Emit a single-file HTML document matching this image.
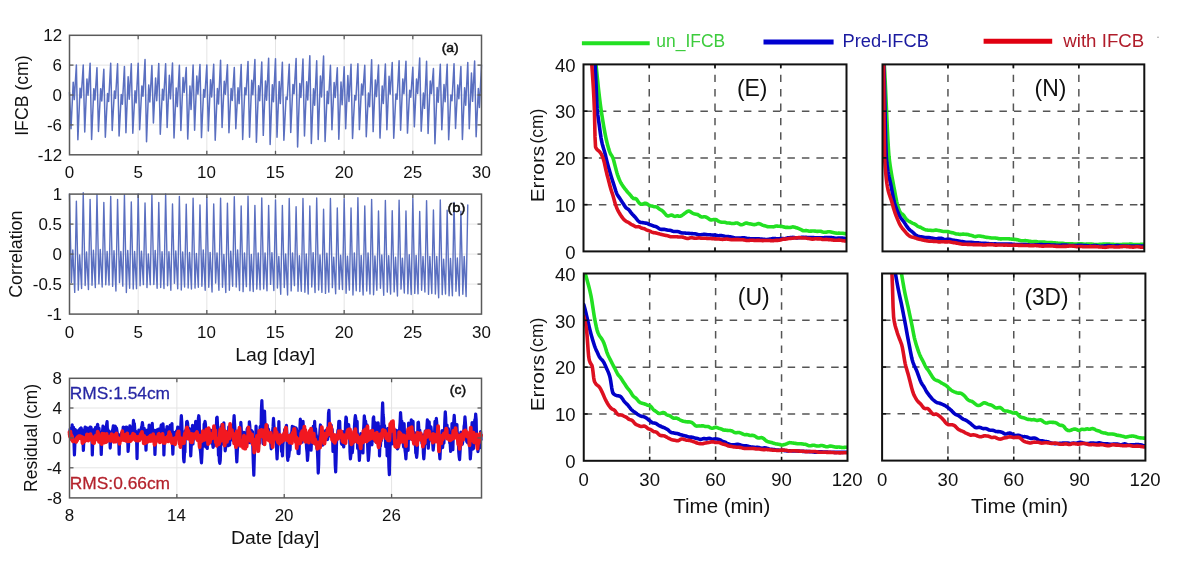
<!DOCTYPE html>
<html><head><meta charset="utf-8"><style>
html,body{margin:0;padding:0;background:#fff;}
svg{display:block;filter:blur(0.45px);}
text{font-family:"Liberation Sans",sans-serif;}
</style></head><body>
<svg width="1184" height="563" viewBox="0 0 1184 563">
<rect width="1184" height="563" fill="#fff"/>
<line x1="138.17" y1="35.30" x2="138.17" y2="154.80" stroke="#e4e4e4" stroke-width="1" />
<line x1="206.83" y1="35.30" x2="206.83" y2="154.80" stroke="#e4e4e4" stroke-width="1" />
<line x1="275.50" y1="35.30" x2="275.50" y2="154.80" stroke="#e4e4e4" stroke-width="1" />
<line x1="344.17" y1="35.30" x2="344.17" y2="154.80" stroke="#e4e4e4" stroke-width="1" />
<line x1="412.83" y1="35.30" x2="412.83" y2="154.80" stroke="#e4e4e4" stroke-width="1" />
<line x1="69.50" y1="65.12" x2="481.50" y2="65.12" stroke="#e4e4e4" stroke-width="1" />
<line x1="69.50" y1="95.00" x2="481.50" y2="95.00" stroke="#e4e4e4" stroke-width="1" />
<line x1="69.50" y1="124.88" x2="481.50" y2="124.88" stroke="#e4e4e4" stroke-width="1" />
<polyline points="69.50,92.51 71.01,128.81 73.21,82.15 74.31,99.60 76.37,64.99 77.88,139.78 80.07,88.29 81.17,97.80 83.23,65.10 84.74,132.02 86.94,79.11 88.04,95.25 90.10,63.32 91.61,139.57 93.81,88.64 94.91,100.05 96.97,67.65 98.48,131.45 100.67,88.63 101.77,100.99 103.83,69.13 105.34,137.15 107.54,93.58 108.64,101.52 110.70,63.16 112.21,130.51 114.41,91.08 115.51,98.37 117.57,63.78 119.08,135.93 121.27,94.62 122.37,104.13 124.43,66.55 125.94,132.67 128.14,76.83 129.24,99.31 131.30,63.73 132.81,133.24 135.01,90.85 136.11,102.86 138.17,63.30 139.68,129.63 141.87,85.94 142.97,96.23 145.03,59.57 146.54,141.72 148.74,85.10 149.84,102.05 151.90,65.55 153.41,122.88 155.61,78.02 156.71,100.67 158.77,63.41 160.28,134.32 162.47,89.28 163.57,100.09 165.63,63.83 167.14,127.53 169.34,75.33 170.44,98.85 172.50,63.02 174.01,137.94 176.21,88.02 177.31,106.61 179.37,65.36 180.88,130.54 183.07,77.48 184.17,92.50 186.23,67.59 187.74,139.10 189.94,85.95 191.04,109.41 193.10,65.01 194.61,130.19 196.81,76.05 197.91,94.09 199.97,64.61 201.48,137.61 203.67,89.52 204.77,97.16 206.83,64.91 208.34,130.91 210.54,79.65 211.64,96.91 213.70,64.22 215.21,140.21 217.41,88.57 218.51,104.01 220.57,60.15 222.08,127.58 224.27,81.15 225.37,94.16 227.43,64.65 228.94,132.66 231.14,88.55 232.24,100.44 234.30,67.49 235.81,128.65 238.01,87.78 239.11,103.59 241.17,64.54 242.68,139.46 244.87,87.87 245.97,94.64 248.03,61.41 249.54,137.26 251.74,80.24 252.84,94.78 254.90,59.45 256.41,142.27 258.61,85.73 259.71,100.66 261.77,62.01 263.28,135.36 265.47,80.92 266.57,100.17 268.63,58.15 270.14,144.55 272.34,84.66 273.44,101.80 275.50,58.66 277.01,137.14 279.21,81.53 280.31,103.46 282.37,62.31 283.88,140.29 286.07,97.01 287.17,99.52 289.23,64.14 290.74,132.44 292.94,84.43 294.04,93.78 296.10,58.53 297.61,146.91 299.81,83.55 300.91,97.44 302.97,59.12 304.48,136.04 306.67,81.70 307.77,99.89 309.83,55.64 311.34,143.45 313.54,88.73 314.64,105.23 316.70,60.80 318.21,139.54 320.41,76.05 321.51,97.03 323.57,56.04 325.08,141.51 327.27,91.29 328.37,103.61 330.43,65.30 331.94,129.83 334.14,82.55 335.24,97.54 337.30,67.75 338.81,139.14 341.01,81.94 342.11,104.81 344.17,66.78 345.68,128.68 347.87,75.45 348.97,101.56 351.03,64.25 352.54,138.53 354.74,95.54 355.84,99.91 357.90,63.70 359.41,129.61 361.61,84.06 362.71,94.91 364.77,65.24 366.28,136.83 368.47,92.94 369.57,106.71 371.63,59.64 373.14,131.62 375.34,79.90 376.44,96.61 378.50,64.95 380.01,138.10 382.21,86.02 383.31,103.52 385.37,64.08 386.88,129.78 389.07,76.37 390.17,94.12 392.23,62.49 393.74,138.29 395.94,94.03 397.04,99.16 399.10,60.74 400.61,130.34 402.81,78.90 403.91,93.77 405.97,61.15 407.48,133.12 409.67,90.34 410.77,97.19 412.83,67.36 414.34,126.85 416.54,79.09 417.64,93.45 419.70,58.02 421.21,131.15 423.41,93.09 424.51,108.35 426.57,61.19 428.08,133.39 430.27,81.11 431.37,93.57 433.43,68.54 434.94,143.68 437.14,87.49 438.24,102.31 440.30,64.37 441.81,129.72 444.01,84.49 445.11,101.77 447.17,64.13 448.68,139.71 450.87,95.07 451.97,100.71 454.03,63.81 455.54,128.44 457.74,85.00 458.84,98.79 460.90,66.62 462.41,139.42 464.61,87.75 465.71,105.20 467.77,62.57 469.28,128.67 471.47,72.99 472.57,101.35 474.63,60.98 476.14,136.64 478.34,88.58 479.44,107.52 481.50,65.01" fill="none" stroke="#5a6fc0" stroke-width="1.5" stroke-linejoin="round" stroke-linecap="round" stroke-linejoin="miter" stroke-linecap="butt" stroke-miterlimit="3"/>
<rect x="69.5" y="35.3" width="412.0" height="119.50000000000001" fill="none" stroke="#5a5a5a" stroke-width="1.5"/>
<line x1="138.17" y1="154.80" x2="138.17" y2="150.80" stroke="#5a5a5a" stroke-width="1.3" />
<line x1="138.17" y1="35.30" x2="138.17" y2="39.30" stroke="#5a5a5a" stroke-width="1.3" />
<line x1="206.83" y1="154.80" x2="206.83" y2="150.80" stroke="#5a5a5a" stroke-width="1.3" />
<line x1="206.83" y1="35.30" x2="206.83" y2="39.30" stroke="#5a5a5a" stroke-width="1.3" />
<line x1="275.50" y1="154.80" x2="275.50" y2="150.80" stroke="#5a5a5a" stroke-width="1.3" />
<line x1="275.50" y1="35.30" x2="275.50" y2="39.30" stroke="#5a5a5a" stroke-width="1.3" />
<line x1="344.17" y1="154.80" x2="344.17" y2="150.80" stroke="#5a5a5a" stroke-width="1.3" />
<line x1="344.17" y1="35.30" x2="344.17" y2="39.30" stroke="#5a5a5a" stroke-width="1.3" />
<line x1="412.83" y1="154.80" x2="412.83" y2="150.80" stroke="#5a5a5a" stroke-width="1.3" />
<line x1="412.83" y1="35.30" x2="412.83" y2="39.30" stroke="#5a5a5a" stroke-width="1.3" />
<line x1="69.50" y1="65.12" x2="73.50" y2="65.12" stroke="#5a5a5a" stroke-width="1.3" />
<line x1="481.50" y1="65.12" x2="477.50" y2="65.12" stroke="#5a5a5a" stroke-width="1.3" />
<line x1="69.50" y1="95.00" x2="73.50" y2="95.00" stroke="#5a5a5a" stroke-width="1.3" />
<line x1="481.50" y1="95.00" x2="477.50" y2="95.00" stroke="#5a5a5a" stroke-width="1.3" />
<line x1="69.50" y1="124.88" x2="73.50" y2="124.88" stroke="#5a5a5a" stroke-width="1.3" />
<line x1="481.50" y1="124.88" x2="477.50" y2="124.88" stroke="#5a5a5a" stroke-width="1.3" />
<text transform="translate(43.32,41.45) scale(1.0600,1)" font-size="16" font-weight="normal" fill="#111">12</text>
<text transform="translate(52.57,71.33) scale(1.0600,1)" font-size="16" font-weight="normal" fill="#111">6</text>
<text transform="translate(52.48,101.20) scale(1.0600,1)" font-size="16" font-weight="normal" fill="#111">0</text>
<text transform="translate(46.88,131.07) scale(1.0600,1)" font-size="16" font-weight="normal" fill="#111">-6</text>
<text transform="translate(37.64,160.95) scale(1.0600,1)" font-size="16" font-weight="normal" fill="#111">-12</text>
<text transform="translate(64.75,178.30) scale(1.0600,1)" font-size="16" font-weight="normal" fill="#111">0</text>
<text transform="translate(133.46,178.30) scale(1.0600,1)" font-size="16" font-weight="normal" fill="#111">5</text>
<text transform="translate(197.08,178.30) scale(1.0600,1)" font-size="16" font-weight="normal" fill="#111">10</text>
<text transform="translate(265.79,178.30) scale(1.0600,1)" font-size="16" font-weight="normal" fill="#111">15</text>
<text transform="translate(334.63,178.30) scale(1.0600,1)" font-size="16" font-weight="normal" fill="#111">20</text>
<text transform="translate(403.34,178.30) scale(1.0600,1)" font-size="16" font-weight="normal" fill="#111">25</text>
<text transform="translate(472.04,178.30) scale(1.0600,1)" font-size="16" font-weight="normal" fill="#111">30</text>
<text transform="translate(27.60,135.79) rotate(-90) scale(0.9990,1)" font-size="17.7" font-weight="normal" fill="#111">IFCB (cm)</text>
<text transform="translate(441.66,51.50) scale(1.0370,1)" font-size="13.5" font-weight="normal" fill="#111" stroke="#111" stroke-width="0.5">(a)</text>
<line x1="138.17" y1="194.10" x2="138.17" y2="314.10" stroke="#e4e4e4" stroke-width="1" />
<line x1="206.83" y1="194.10" x2="206.83" y2="314.10" stroke="#e4e4e4" stroke-width="1" />
<line x1="275.50" y1="194.10" x2="275.50" y2="314.10" stroke="#e4e4e4" stroke-width="1" />
<line x1="344.17" y1="194.10" x2="344.17" y2="314.10" stroke="#e4e4e4" stroke-width="1" />
<line x1="412.83" y1="194.10" x2="412.83" y2="314.10" stroke="#e4e4e4" stroke-width="1" />
<line x1="69.50" y1="224.10" x2="481.50" y2="224.10" stroke="#e4e4e4" stroke-width="1" />
<line x1="69.50" y1="254.10" x2="481.50" y2="254.10" stroke="#e4e4e4" stroke-width="1" />
<line x1="69.50" y1="284.10" x2="481.50" y2="284.10" stroke="#e4e4e4" stroke-width="1" />
<polyline points="69.50,194.10 71.42,282.53 72.80,249.93 74.72,292.38 76.37,201.14 78.29,290.15 79.66,254.90 81.59,288.50 83.23,192.75 85.16,285.44 86.53,251.91 88.45,289.61 90.10,199.36 92.02,285.29 93.40,250.20 95.32,287.60 96.97,194.55 98.89,283.86 100.26,249.57 102.19,287.08 103.83,202.39 105.76,284.69 107.13,251.55 109.05,285.10 110.70,196.37 112.62,286.38 114.00,250.66 115.92,291.02 117.57,199.48 119.49,282.66 120.86,251.46 122.79,286.12 124.43,194.64 126.36,292.57 127.73,250.52 129.65,288.24 131.30,201.86 133.22,289.00 134.60,251.42 136.52,288.65 138.17,193.92 140.09,285.74 141.46,251.15 143.39,284.67 145.03,203.04 146.96,287.60 148.33,253.99 150.25,284.70 151.90,194.43 153.82,284.59 155.20,250.39 157.12,288.33 158.77,202.53 160.69,287.52 162.06,251.82 163.99,288.58 165.63,194.02 167.56,285.70 168.93,251.73 170.85,290.23 172.50,203.97 174.42,283.32 175.80,251.00 177.72,288.80 179.37,196.50 181.29,289.95 182.66,251.99 184.59,286.99 186.23,204.09 188.16,287.96 189.53,252.34 191.45,288.95 193.10,198.25 195.02,288.10 196.40,253.42 198.32,287.21 199.97,204.96 201.89,286.27 203.26,249.97 205.19,290.21 206.83,197.30 208.76,287.32 210.13,252.39 212.05,291.97 213.70,203.89 215.62,283.07 217.00,252.89 218.92,290.19 220.57,198.08 222.49,287.27 223.86,254.50 225.79,292.49 227.43,203.32 229.36,290.33 230.73,251.13 232.65,286.30 234.30,196.77 236.22,286.95 237.60,249.95 239.52,290.55 241.17,205.98 243.09,291.65 244.46,252.94 246.39,286.65 248.03,196.18 249.96,290.79 251.33,254.41 253.25,291.54 254.90,205.34 256.82,289.14 258.20,252.93 260.12,289.74 261.77,197.93 263.69,288.87 265.06,253.07 266.99,290.78 268.63,205.50 270.56,284.41 271.93,252.61 273.85,290.57 275.50,199.85 277.42,288.09 278.80,256.54 280.72,294.21 282.37,205.49 284.29,287.45 285.66,253.97 287.59,295.05 289.23,198.52 291.16,290.90 292.53,252.92 294.45,285.65 296.10,206.67 298.02,291.27 299.40,255.75 301.32,291.33 302.97,198.53 304.89,292.28 306.26,253.95 308.19,294.08 309.83,206.01 311.76,287.09 313.13,252.62 315.05,292.58 316.70,197.95 318.62,290.09 320.00,254.95 321.92,292.38 323.57,209.31 325.49,293.36 326.86,253.30 328.79,292.15 330.43,198.56 332.36,287.61 333.73,257.22 335.65,293.70 337.30,207.96 339.22,289.20 340.60,255.31 342.52,289.47 344.17,198.81 346.09,293.18 347.46,256.26 349.39,290.13 351.03,208.03 352.96,294.95 354.33,252.97 356.25,290.75 357.90,197.70 359.82,291.43 361.20,255.56 363.12,295.02 364.77,205.95 366.69,291.06 368.06,252.86 369.99,293.99 371.63,199.37 373.56,294.77 374.93,255.94 376.85,290.20 378.50,210.91 380.42,288.31 381.80,254.98 383.72,295.19 385.37,200.41 387.29,292.11 388.66,255.68 390.59,294.10 392.23,210.82 394.16,291.87 395.53,257.27 397.45,296.03 399.10,200.12 401.02,289.14 402.40,258.15 404.32,293.05 405.97,211.02 407.89,293.73 409.26,254.70 411.19,294.43 412.83,198.51 414.76,293.38 416.13,255.53 418.05,293.85 419.70,211.56 421.62,290.22 423.00,256.46 424.92,291.98 426.57,200.61 428.49,294.36 429.86,256.51 431.79,293.43 433.43,209.92 435.36,294.05 436.73,256.54 438.65,297.81 440.30,200.02 442.22,294.60 443.60,259.31 445.52,293.95 447.17,210.15 449.09,295.79 450.46,258.36 452.39,295.71 454.03,202.41 455.96,291.34 457.33,258.06 459.25,295.78 460.90,211.19 462.82,294.19 464.20,256.33 466.12,296.51 467.77,204.90" fill="none" stroke="#5a6fc0" stroke-width="1.4" stroke-linejoin="round" stroke-linecap="round" stroke-linejoin="miter" stroke-linecap="butt" stroke-miterlimit="3"/>
<rect x="69.5" y="194.1" width="412.0" height="120.00000000000003" fill="none" stroke="#5a5a5a" stroke-width="1.5"/>
<line x1="138.17" y1="314.10" x2="138.17" y2="310.10" stroke="#5a5a5a" stroke-width="1.3" />
<line x1="138.17" y1="194.10" x2="138.17" y2="198.10" stroke="#5a5a5a" stroke-width="1.3" />
<line x1="206.83" y1="314.10" x2="206.83" y2="310.10" stroke="#5a5a5a" stroke-width="1.3" />
<line x1="206.83" y1="194.10" x2="206.83" y2="198.10" stroke="#5a5a5a" stroke-width="1.3" />
<line x1="275.50" y1="314.10" x2="275.50" y2="310.10" stroke="#5a5a5a" stroke-width="1.3" />
<line x1="275.50" y1="194.10" x2="275.50" y2="198.10" stroke="#5a5a5a" stroke-width="1.3" />
<line x1="344.17" y1="314.10" x2="344.17" y2="310.10" stroke="#5a5a5a" stroke-width="1.3" />
<line x1="344.17" y1="194.10" x2="344.17" y2="198.10" stroke="#5a5a5a" stroke-width="1.3" />
<line x1="412.83" y1="314.10" x2="412.83" y2="310.10" stroke="#5a5a5a" stroke-width="1.3" />
<line x1="412.83" y1="194.10" x2="412.83" y2="198.10" stroke="#5a5a5a" stroke-width="1.3" />
<line x1="69.50" y1="224.10" x2="73.50" y2="224.10" stroke="#5a5a5a" stroke-width="1.3" />
<line x1="481.50" y1="224.10" x2="477.50" y2="224.10" stroke="#5a5a5a" stroke-width="1.3" />
<line x1="69.50" y1="254.10" x2="73.50" y2="254.10" stroke="#5a5a5a" stroke-width="1.3" />
<line x1="481.50" y1="254.10" x2="477.50" y2="254.10" stroke="#5a5a5a" stroke-width="1.3" />
<line x1="69.50" y1="284.10" x2="73.50" y2="284.10" stroke="#5a5a5a" stroke-width="1.3" />
<line x1="481.50" y1="284.10" x2="477.50" y2="284.10" stroke="#5a5a5a" stroke-width="1.3" />
<text transform="translate(52.65,200.30) scale(1.0600,1)" font-size="16" font-weight="normal" fill="#111">1</text>
<text transform="translate(38.40,230.30) scale(1.0600,1)" font-size="16" font-weight="normal" fill="#111">0.5</text>
<text transform="translate(52.48,260.30) scale(1.0600,1)" font-size="16" font-weight="normal" fill="#111">0</text>
<text transform="translate(32.81,290.30) scale(1.0600,1)" font-size="16" font-weight="normal" fill="#111">-0.5</text>
<text transform="translate(46.97,320.30) scale(1.0600,1)" font-size="16" font-weight="normal" fill="#111">-1</text>
<text transform="translate(64.75,338.00) scale(1.0600,1)" font-size="16" font-weight="normal" fill="#111">0</text>
<text transform="translate(133.46,338.00) scale(1.0600,1)" font-size="16" font-weight="normal" fill="#111">5</text>
<text transform="translate(197.08,338.00) scale(1.0600,1)" font-size="16" font-weight="normal" fill="#111">10</text>
<text transform="translate(265.79,338.00) scale(1.0600,1)" font-size="16" font-weight="normal" fill="#111">15</text>
<text transform="translate(334.63,338.00) scale(1.0600,1)" font-size="16" font-weight="normal" fill="#111">20</text>
<text transform="translate(403.34,338.00) scale(1.0600,1)" font-size="16" font-weight="normal" fill="#111">25</text>
<text transform="translate(472.04,338.00) scale(1.0600,1)" font-size="16" font-weight="normal" fill="#111">30</text>
<text transform="translate(235.14,360.60) scale(1.0511,1)" font-size="18.5" font-weight="normal" fill="#111">Lag [day]</text>
<text transform="translate(22.30,297.79) rotate(-90) scale(0.9804,1)" font-size="18.2" font-weight="normal" fill="#111">Correlation</text>
<text transform="translate(447.42,212.00) scale(1.0909,1)" font-size="13.5" font-weight="normal" fill="#111" stroke="#111" stroke-width="0.5">(b)</text>
<line x1="176.86" y1="378.30" x2="176.86" y2="497.90" stroke="#e4e4e4" stroke-width="1" />
<line x1="284.23" y1="378.30" x2="284.23" y2="497.90" stroke="#e4e4e4" stroke-width="1" />
<line x1="391.59" y1="378.30" x2="391.59" y2="497.90" stroke="#e4e4e4" stroke-width="1" />
<line x1="69.50" y1="408.00" x2="481.50" y2="408.00" stroke="#e4e4e4" stroke-width="1" />
<line x1="69.50" y1="437.90" x2="481.50" y2="437.90" stroke="#e4e4e4" stroke-width="1" />
<line x1="69.50" y1="467.80" x2="481.50" y2="467.80" stroke="#e4e4e4" stroke-width="1" />
<polyline points="69.50,434.60 69.95,430.67 70.39,428.48 70.84,432.81 71.29,434.02 71.74,432.98 72.18,424.75 72.63,434.69 73.08,432.54 73.53,427.25 73.97,441.65 74.42,454.84 74.87,444.12 75.32,429.50 75.76,436.92 76.21,436.48 76.66,430.88 77.10,433.11 77.55,432.51 78.00,430.83 78.45,435.09 78.89,437.23 79.34,429.67 79.79,432.58 80.24,428.69 80.68,428.85 81.13,427.88 81.58,429.76 82.03,433.92 82.47,430.83 82.92,436.33 83.37,450.33 83.82,441.08 84.26,439.89 84.71,429.30 85.16,427.17 85.60,434.05 86.05,430.84 86.50,427.90 86.95,428.08 87.39,428.59 87.84,433.22 88.29,429.29 88.74,430.30 89.18,437.46 89.63,427.96 90.08,427.12 90.53,428.64 90.97,427.23 91.42,429.48 91.87,436.22 92.31,454.89 92.76,440.44 93.21,434.98 93.66,430.15 94.10,432.45 94.55,429.26 95.00,434.20 95.45,427.52 95.89,430.04 96.34,429.10 96.79,430.79 97.24,425.66 97.68,424.40 98.13,428.80 98.58,429.85 99.03,428.26 99.47,436.04 99.92,432.00 100.37,433.70 100.81,439.90 101.26,454.50 101.71,440.12 102.16,438.17 102.60,430.48 103.05,426.02 103.50,428.61 103.95,434.32 104.39,429.51 104.84,428.43 105.29,427.52 105.74,428.10 106.18,431.34 106.63,424.38 107.08,421.64 107.52,432.73 107.97,429.65 108.42,436.31 108.87,432.64 109.31,434.70 109.76,431.72 110.21,448.03 110.66,439.61 111.10,433.96 111.55,438.11 112.00,433.97 112.45,430.50 112.89,428.99 113.34,425.81 113.79,432.75 114.23,432.57 114.68,427.21 115.13,426.28 115.58,426.91 116.02,430.42 116.47,428.00 116.92,430.70 117.37,434.10 117.81,433.88 118.26,439.82 118.71,436.86 119.16,454.09 119.60,437.89 120.05,434.91 120.50,439.13 120.95,438.23 121.39,433.48 121.84,434.82 122.29,431.76 122.73,434.57 123.18,427.14 123.63,429.58 124.08,430.86 124.52,430.47 124.97,435.67 125.42,427.31 125.87,427.59 126.31,433.67 126.76,427.14 127.21,434.65 127.66,436.81 128.10,451.36 128.55,445.46 129.00,433.88 129.44,431.02 129.89,425.87 130.34,432.57 130.79,432.84 131.23,433.25 131.68,430.36 132.13,430.15 132.58,430.38 133.02,428.40 133.47,420.29 133.92,426.27 134.37,423.60 134.81,430.13 135.26,433.18 135.71,431.34 136.16,440.41 136.60,438.35 137.05,458.53 137.50,435.68 137.94,436.68 138.39,434.42 138.84,430.23 139.29,431.62 139.73,431.10 140.18,433.46 140.63,432.92 141.08,429.27 141.52,427.27 141.97,426.06 142.42,422.58 142.87,426.55 143.31,429.65 143.76,430.24 144.21,428.30 144.65,432.33 145.10,435.82 145.55,439.23 146.00,450.11 146.44,439.09 146.89,430.33 147.34,434.66 147.79,429.86 148.23,436.23 148.68,434.00 149.13,424.98 149.58,432.24 150.02,429.88 150.47,430.32 150.92,431.80 151.37,427.91 151.81,433.02 152.26,423.44 152.71,435.08 153.15,430.89 153.60,430.74 154.05,430.26 154.50,440.02 154.94,454.34 155.39,443.12 155.84,433.88 156.29,438.20 156.73,429.95 157.18,429.84 157.63,436.60 158.08,439.96 158.52,429.01 158.97,434.37 159.42,432.26 159.86,435.07 160.31,433.07 160.76,428.42 161.21,425.14 161.65,432.62 162.10,434.08 162.55,430.17 163.00,423.80 163.44,430.25 163.89,454.91 164.34,441.10 164.79,435.79 165.23,434.24 165.68,429.81 166.13,431.81 166.57,433.58 167.02,426.61 167.47,432.64 167.92,432.75 168.36,437.97 168.81,429.23 169.26,433.93 169.71,427.85 170.15,425.44 170.60,429.43 171.05,432.96 171.50,435.01 171.94,423.66 172.39,441.90 172.84,454.19 173.29,442.94 173.73,432.30 174.18,435.45 174.63,435.92 175.07,437.45 175.52,433.69 175.97,434.64 176.42,431.12 176.86,436.69 177.31,430.29 177.76,427.04 178.21,428.07 178.65,427.78 179.10,436.65 179.55,430.74 180.00,434.07 180.44,433.38 180.89,423.85 181.34,415.48 181.78,422.54 182.23,437.54 182.68,441.03 183.13,436.60 183.57,458.54 184.02,461.82 184.47,452.67 184.92,452.32 185.36,430.56 185.81,438.94 186.26,429.81 186.71,421.67 187.15,421.46 187.60,423.45 188.05,429.73 188.50,433.74 188.94,436.76 189.39,428.67 189.84,439.48 190.28,436.30 190.73,455.84 191.18,446.79 191.63,441.36 192.07,443.69 192.52,425.41 192.97,443.96 193.42,431.74 193.86,428.44 194.31,439.04 194.76,428.55 195.21,431.91 195.65,421.45 196.10,426.09 196.55,435.66 196.99,428.79 197.44,431.17 197.89,430.98 198.34,418.69 198.78,415.73 199.23,420.02 199.68,442.31 200.13,448.97 200.57,451.72 201.02,458.07 201.47,462.92 201.92,455.26 202.36,443.91 202.81,439.50 203.26,446.40 203.70,438.06 204.15,424.24 204.60,422.98 205.05,421.46 205.49,424.55 205.94,447.08 206.39,432.16 206.84,434.87 207.28,448.51 207.73,430.14 208.18,444.09 208.63,437.09 209.07,437.25 209.52,436.87 209.97,430.13 210.42,438.43 210.86,430.37 211.31,432.94 211.76,443.48 212.20,439.97 212.65,443.69 213.10,447.39 213.55,445.60 213.99,431.83 214.44,442.90 214.89,426.58 215.34,433.69 215.78,432.57 216.23,431.58 216.68,417.69 217.13,417.14 217.57,426.34 218.02,435.75 218.47,455.12 218.91,446.63 219.36,460.90 219.81,463.31 220.26,460.28 220.70,447.92 221.15,426.57 221.60,429.54 222.05,424.58 222.49,443.99 222.94,424.16 223.39,436.25 223.84,422.86 224.28,435.82 224.73,439.27 225.18,450.78 225.63,447.24 226.07,441.75 226.52,432.25 226.97,431.85 227.41,440.65 227.86,445.59 228.31,445.66 228.76,426.84 229.20,435.97 229.65,444.90 230.10,428.29 230.55,433.94 230.99,431.46 231.44,429.34 231.89,430.93 232.34,434.79 232.78,440.31 233.23,434.09 233.68,422.44 234.12,415.48 234.57,423.67 235.02,430.20 235.47,436.50 235.91,440.39 236.36,453.38 236.81,461.82 237.26,452.67 237.70,444.50 238.15,437.84 238.60,438.83 239.05,430.21 239.49,429.21 239.94,433.51 240.39,441.55 240.84,422.32 241.28,429.39 241.73,441.57 242.18,440.13 242.62,433.46 243.07,442.65 243.52,437.30 243.97,432.24 244.41,432.95 244.86,439.04 245.31,443.66 245.76,440.72 246.20,434.05 246.65,440.62 247.10,429.25 247.55,428.14 247.99,429.15 248.44,432.45 248.89,442.64 249.33,421.73 249.78,425.55 250.23,433.26 250.68,434.28 251.12,433.50 251.57,430.57 252.02,443.74 252.47,431.64 252.91,450.07 253.36,463.88 253.81,475.27 254.26,459.39 254.70,445.35 255.15,443.30 255.60,446.44 256.04,426.11 256.49,435.76 256.94,434.13 257.39,436.35 257.83,438.79 258.28,432.28 258.73,433.07 259.18,437.44 259.62,443.11 260.07,427.18 260.52,426.13 260.97,433.88 261.41,409.65 261.86,400.53 262.31,412.55 262.76,419.89 263.20,443.75 263.65,430.07 264.10,420.99 264.54,410.99 264.99,423.58 265.44,436.62 265.89,429.75 266.33,435.47 266.78,428.42 267.23,425.43 267.68,434.00 268.12,428.84 268.57,429.58 269.02,433.27 269.47,435.64 269.91,436.06 270.36,435.90 270.81,444.15 271.25,448.81 271.70,437.56 272.15,444.82 272.60,431.47 273.04,426.95 273.49,418.47 273.94,425.42 274.39,434.51 274.83,429.30 275.28,431.47 275.73,431.64 276.18,439.35 276.62,450.42 277.07,458.83 277.52,448.88 277.97,439.12 278.41,440.70 278.86,421.53 279.31,438.26 279.75,436.72 280.20,435.81 280.65,437.42 281.10,438.89 281.54,451.41 281.99,443.59 282.44,455.84 282.89,444.34 283.33,441.27 283.78,434.09 284.23,439.37 284.68,429.59 285.12,432.03 285.57,427.83 286.02,434.68 286.46,425.37 286.91,434.32 287.36,455.90 287.81,460.32 288.25,455.27 288.70,456.78 289.15,452.79 289.60,445.58 290.04,450.17 290.49,439.60 290.94,433.95 291.39,440.90 291.83,431.90 292.28,426.39 292.73,439.27 293.17,428.04 293.62,428.26 294.07,427.25 294.52,435.47 294.96,433.22 295.41,439.37 295.86,427.92 296.31,428.47 296.75,431.22 297.20,434.80 297.65,440.88 298.10,453.51 298.54,445.02 298.99,453.61 299.44,440.17 299.89,429.25 300.33,419.21 300.78,427.68 301.23,439.05 301.67,423.32 302.12,442.18 302.57,421.86 303.02,421.45 303.46,429.00 303.91,438.39 304.36,436.06 304.81,434.22 305.25,432.50 305.70,436.88 306.15,439.73 306.60,448.32 307.04,452.20 307.49,460.32 307.94,455.08 308.38,442.12 308.83,433.32 309.28,433.91 309.73,433.42 310.17,439.93 310.62,430.66 311.07,450.20 311.52,440.56 311.96,443.88 312.41,441.04 312.86,429.96 313.31,426.43 313.75,437.51 314.20,431.63 314.65,421.46 315.10,433.25 315.54,428.70 315.99,434.21 316.44,436.08 316.88,447.83 317.33,449.40 317.78,459.09 318.23,473.03 318.67,464.43 319.12,437.32 319.57,437.41 320.02,429.89 320.46,424.97 320.91,431.27 321.36,431.37 321.81,439.42 322.25,435.18 322.70,445.11 323.15,436.09 323.59,439.23 324.04,433.56 324.49,441.83 324.94,432.85 325.38,431.47 325.83,430.43 326.28,433.23 326.73,435.35 327.17,436.62 327.62,439.52 328.07,428.35 328.52,413.34 328.96,410.39 329.41,427.78 329.86,432.84 330.31,430.04 330.75,436.36 331.20,424.98 331.65,433.99 332.09,429.12 332.54,433.66 332.99,451.44 333.44,436.52 333.88,451.37 334.33,444.39 334.78,446.53 335.23,465.03 335.67,471.83 336.12,458.33 336.57,441.34 337.02,436.03 337.46,436.97 337.91,430.23 338.36,430.41 338.80,421.46 339.25,429.07 339.70,421.46 340.15,436.09 340.59,434.99 341.04,437.89 341.49,443.66 341.94,444.30 342.38,439.76 342.83,431.62 343.28,444.69 343.73,447.00 344.17,439.59 344.62,443.89 345.07,442.13 345.51,423.80 345.96,417.01 346.41,418.10 346.86,429.34 347.30,428.48 347.75,432.28 348.20,430.89 348.65,424.51 349.09,430.22 349.54,429.75 349.99,451.86 350.44,458.83 350.88,454.84 351.33,448.03 351.78,444.37 352.23,452.71 352.67,448.89 353.12,438.91 353.57,442.48 354.01,441.56 354.46,426.47 354.91,419.31 355.36,415.68 355.80,418.51 356.25,429.76 356.70,430.87 357.15,421.45 357.59,448.33 358.04,435.76 358.49,445.47 358.94,451.75 359.38,460.32 359.83,453.48 360.28,448.05 360.72,433.49 361.17,438.55 361.62,441.98 362.07,448.17 362.51,435.14 362.96,452.93 363.41,432.58 363.86,425.28 364.30,415.88 364.75,419.71 365.20,434.04 365.65,421.18 366.09,436.31 366.54,431.87 366.99,424.85 367.44,439.78 367.88,451.68 368.33,460.32 368.78,455.60 369.22,449.45 369.67,434.28 370.12,438.83 370.57,439.55 371.01,440.73 371.46,444.33 371.91,444.70 372.36,430.04 372.80,429.51 373.25,418.10 373.70,417.02 374.15,431.28 374.59,432.44 375.04,441.03 375.49,422.97 375.93,424.62 376.38,436.34 376.83,427.04 377.28,439.63 377.72,427.66 378.17,422.96 378.62,434.11 379.07,426.43 379.51,455.84 379.96,444.21 380.41,446.06 380.86,439.49 381.30,440.80 381.75,428.68 382.20,413.22 382.64,402.77 383.09,414.28 383.54,417.83 383.99,431.50 384.43,425.46 384.88,428.83 385.33,437.10 385.78,446.66 386.22,438.56 386.67,434.24 387.12,455.84 387.57,452.03 388.01,428.29 388.46,449.84 388.91,466.67 389.36,474.56 389.80,454.07 390.25,439.92 390.70,431.57 391.14,439.95 391.59,435.97 392.04,443.82 392.49,431.34 392.93,431.46 393.38,430.29 393.83,428.80 394.28,443.80 394.72,433.39 395.17,438.75 395.62,436.73 396.07,433.58 396.51,430.35 396.96,443.61 397.41,448.97 397.85,448.31 398.30,445.57 398.75,444.38 399.20,438.21 399.64,428.46 400.09,422.55 400.54,412.48 400.99,419.26 401.43,427.84 401.88,421.19 402.33,432.58 402.78,427.40 403.22,442.88 403.67,447.09 404.12,423.71 404.57,435.60 405.01,450.32 405.46,453.38 405.91,458.83 406.35,451.48 406.80,445.04 407.25,432.50 407.70,434.61 408.14,450.32 408.59,423.12 409.04,431.09 409.49,437.72 409.93,439.09 410.38,435.43 410.83,428.01 411.28,419.96 411.72,424.73 412.17,433.97 412.62,435.58 413.06,421.45 413.51,440.19 413.96,432.01 414.41,432.53 414.85,443.64 415.30,440.98 415.75,452.92 416.20,453.65 416.64,457.33 417.09,453.03 417.54,443.98 417.99,422.52 418.43,422.25 418.88,429.45 419.33,436.25 419.78,430.15 420.22,439.52 420.67,436.60 421.12,436.89 421.56,437.44 422.01,443.26 422.46,435.06 422.91,436.52 423.35,453.00 423.80,458.83 424.25,453.12 424.70,441.64 425.14,431.14 425.59,443.00 426.04,443.65 426.49,436.50 426.93,426.76 427.38,419.96 427.83,424.71 428.27,448.27 428.72,441.80 429.17,421.81 429.62,431.11 430.06,430.34 430.51,435.23 430.96,426.91 431.41,431.75 431.85,440.60 432.30,440.67 432.75,443.52 433.20,450.09 433.64,445.68 434.09,432.29 434.54,435.25 434.98,421.37 435.43,427.24 435.88,425.50 436.33,418.47 436.77,422.89 437.22,436.08 437.67,441.57 438.12,427.26 438.56,431.08 439.01,445.67 439.46,452.99 439.91,458.83 440.35,450.49 440.80,438.03 441.25,444.19 441.70,446.51 442.14,430.48 442.59,447.56 443.04,442.51 443.48,442.74 443.93,442.96 444.38,433.09 444.83,420.55 445.27,411.74 445.72,417.94 446.17,433.80 446.62,434.44 447.06,425.07 447.51,434.45 447.96,435.62 448.41,428.62 448.85,434.27 449.30,438.09 449.75,442.86 450.19,444.00 450.64,451.51 451.09,441.50 451.54,446.66 451.98,423.52 452.43,434.54 452.88,449.76 453.33,432.85 453.77,421.42 454.22,415.47 454.67,422.26 455.12,436.73 455.56,429.23 456.01,430.60 456.46,427.75 456.91,424.54 457.35,435.57 457.80,433.58 458.25,434.39 458.69,451.24 459.14,456.44 459.59,459.58 460.04,452.04 460.48,445.39 460.93,432.10 461.38,436.53 461.83,439.22 462.27,444.21 462.72,441.93 463.17,434.04 463.62,436.56 464.06,426.35 464.51,424.24 464.96,416.97 465.40,422.28 465.85,429.45 466.30,435.00 466.75,441.76 467.19,438.49 467.64,442.79 468.09,437.09 468.54,440.57 468.98,441.25 469.43,443.70 469.88,449.20 470.33,458.83 470.77,452.86 471.22,436.91 471.67,431.65 472.11,422.50 472.56,449.22 473.01,437.28 473.46,448.44 473.90,423.61 474.35,425.72 474.80,419.89 475.25,420.39 475.69,413.98 476.14,419.04 476.59,440.39 477.04,439.83 477.48,438.67 477.93,451.55 478.38,447.53 478.83,437.23 479.27,440.09 479.72,447.81 480.17,443.81 480.61,431.51 481.06,439.77" fill="none" stroke="#1010d0" stroke-width="3.2" stroke-linejoin="round" stroke-linecap="round" />
<polyline points="69.50,432.11 69.95,436.54 70.39,431.70 70.84,439.03 71.29,434.80 71.74,438.14 72.18,436.50 72.63,441.04 73.08,441.36 73.53,440.45 73.97,440.82 74.42,440.31 74.87,440.23 75.32,440.35 75.76,441.22 76.21,441.86 76.66,438.13 77.10,440.50 77.55,437.02 78.00,436.92 78.45,437.43 78.89,436.09 79.34,437.33 79.79,437.90 80.24,436.25 80.68,438.35 81.13,436.66 81.58,437.44 82.03,437.38 82.47,443.19 82.92,437.36 83.37,437.76 83.82,439.21 84.26,441.58 84.71,439.05 85.16,439.54 85.60,440.46 86.05,437.89 86.50,437.73 86.95,434.45 87.39,435.81 87.84,435.03 88.29,440.60 88.74,438.66 89.18,434.61 89.63,437.30 90.08,438.11 90.53,434.19 90.97,438.21 91.42,439.56 91.87,440.24 92.31,436.77 92.76,442.52 93.21,438.07 93.66,441.98 94.10,443.04 94.55,437.53 95.00,438.76 95.45,439.70 95.89,435.42 96.34,436.52 96.79,435.94 97.24,437.49 97.68,431.60 98.13,433.04 98.58,436.98 99.03,441.86 99.47,440.25 99.92,437.43 100.37,441.65 100.81,437.05 101.26,440.95 101.71,444.08 102.16,433.77 102.60,437.96 103.05,440.19 103.50,437.09 103.95,433.95 104.39,442.60 104.84,436.02 105.29,440.87 105.74,437.28 106.18,442.11 106.63,433.79 107.08,441.27 107.52,438.50 107.97,436.95 108.42,438.65 108.87,440.28 109.31,439.53 109.76,436.59 110.21,436.52 110.66,440.86 111.10,440.22 111.55,434.09 112.00,437.97 112.45,439.26 112.89,437.87 113.34,437.39 113.79,441.90 114.23,435.06 114.68,440.35 115.13,438.05 115.58,441.66 116.02,438.43 116.47,433.35 116.92,439.66 117.37,437.31 117.81,439.08 118.26,439.73 118.71,438.29 119.16,439.03 119.60,443.73 120.05,439.50 120.50,439.46 120.95,439.98 121.39,438.52 121.84,439.95 122.29,431.25 122.73,439.16 123.18,437.90 123.63,438.83 124.08,439.97 124.52,436.99 124.97,434.86 125.42,439.45 125.87,440.68 126.31,437.84 126.76,436.64 127.21,433.32 127.66,440.06 128.10,441.29 128.55,440.10 129.00,439.23 129.44,437.58 129.89,438.66 130.34,441.04 130.79,436.33 131.23,438.28 131.68,439.91 132.13,439.09 132.58,439.11 133.02,433.61 133.47,437.07 133.92,436.58 134.37,434.66 134.81,437.34 135.26,436.57 135.71,440.24 136.16,437.73 136.60,437.29 137.05,440.55 137.50,437.20 137.94,436.91 138.39,440.60 138.84,440.34 139.29,440.34 139.73,439.49 140.18,437.52 140.63,434.34 141.08,433.74 141.52,438.50 141.97,431.83 142.42,438.92 142.87,435.01 143.31,435.65 143.76,443.37 144.21,436.02 144.65,438.03 145.10,443.32 145.55,440.23 146.00,437.50 146.44,438.72 146.89,440.62 147.34,441.94 147.79,438.14 148.23,437.78 148.68,437.25 149.13,439.23 149.58,436.94 150.02,441.16 150.47,435.55 150.92,436.95 151.37,440.85 151.81,439.21 152.26,435.66 152.71,438.59 153.15,434.05 153.60,441.35 154.05,437.40 154.50,444.74 154.94,440.95 155.39,443.54 155.84,437.19 156.29,440.72 156.73,440.99 157.18,439.67 157.63,439.89 158.08,439.15 158.52,434.20 158.97,433.85 159.42,436.74 159.86,442.34 160.31,437.09 160.76,437.35 161.21,437.26 161.65,437.25 162.10,436.43 162.55,433.92 163.00,438.71 163.44,442.77 163.89,441.42 164.34,438.30 164.79,442.98 165.23,440.17 165.68,438.04 166.13,439.06 166.57,440.84 167.02,439.44 167.47,436.70 167.92,438.63 168.36,441.42 168.81,434.81 169.26,432.15 169.71,438.09 170.15,434.07 170.60,436.28 171.05,438.25 171.50,438.72 171.94,443.10 172.39,440.25 172.84,441.29 173.29,442.42 173.73,442.52 174.18,438.48 174.63,443.77 175.07,444.15 175.52,439.09 175.97,437.61 176.42,437.45 176.86,437.69 177.31,433.06 177.76,437.42 178.21,431.58 178.65,431.44 179.10,438.17 179.55,443.64 180.00,441.57 180.44,447.09 180.89,441.48 181.34,438.28 181.78,442.95 182.23,440.64 182.68,439.42 183.13,441.02 183.57,443.05 184.02,443.04 184.47,436.36 184.92,433.42 185.36,435.98 185.81,434.89 186.26,430.52 186.71,428.00 187.15,427.42 187.60,438.54 188.05,432.25 188.50,430.83 188.94,438.64 189.39,433.66 189.84,433.58 190.28,436.49 190.73,440.79 191.18,442.16 191.63,433.96 192.07,442.31 192.52,439.20 192.97,435.92 193.42,438.67 193.86,437.13 194.31,434.04 194.76,436.69 195.21,434.56 195.65,437.07 196.10,435.14 196.55,433.05 196.99,432.06 197.44,440.22 197.89,437.32 198.34,435.18 198.78,437.46 199.23,441.58 199.68,447.06 200.13,436.79 200.57,437.85 201.02,435.40 201.47,441.26 201.92,439.42 202.36,440.45 202.81,431.18 203.26,435.04 203.70,434.32 204.15,434.50 204.60,439.81 205.05,436.03 205.49,433.31 205.94,437.30 206.39,429.35 206.84,434.98 207.28,431.39 207.73,437.34 208.18,444.04 208.63,428.18 209.07,433.58 209.52,441.73 209.97,442.14 210.42,435.75 210.86,434.37 211.31,437.86 211.76,433.93 212.20,438.35 212.65,434.84 213.10,437.89 213.55,432.35 213.99,426.06 214.44,436.95 214.89,436.32 215.34,430.40 215.78,442.46 216.23,438.20 216.68,445.76 217.13,439.57 217.57,444.60 218.02,440.34 218.47,443.55 218.91,444.09 219.36,442.26 219.81,434.34 220.26,429.39 220.70,434.46 221.15,433.33 221.60,440.48 222.05,438.18 222.49,424.60 222.94,428.33 223.39,429.89 223.84,430.05 224.28,441.00 224.73,445.47 225.18,437.61 225.63,439.17 226.07,431.75 226.52,439.28 226.97,441.89 227.41,435.13 227.86,438.87 228.31,436.46 228.76,438.65 229.20,438.08 229.65,438.31 230.10,423.98 230.55,434.87 230.99,433.13 231.44,430.85 231.89,430.09 232.34,434.63 232.78,435.81 233.23,435.95 233.68,436.38 234.12,443.40 234.57,442.84 235.02,433.96 235.47,442.37 235.91,447.12 236.36,443.97 236.81,431.33 237.26,444.53 237.70,440.70 238.15,444.55 238.60,436.34 239.05,432.76 239.49,427.78 239.94,440.38 240.39,445.86 240.84,444.82 241.28,441.91 241.73,443.57 242.18,444.84 242.62,441.37 243.07,447.95 243.52,445.55 243.97,435.64 244.41,445.80 244.86,448.66 245.31,448.68 245.76,445.69 246.20,444.52 246.65,446.36 247.10,438.64 247.55,436.33 247.99,439.17 248.44,427.31 248.89,432.53 249.33,435.21 249.78,432.24 250.23,436.05 250.68,441.08 251.12,440.15 251.57,439.10 252.02,434.50 252.47,440.45 252.91,444.54 253.36,443.34 253.81,442.49 254.26,452.49 254.70,443.78 255.15,439.47 255.60,443.44 256.04,444.06 256.49,442.10 256.94,435.93 257.39,438.02 257.83,438.54 258.28,451.06 258.73,445.55 259.18,430.88 259.62,434.17 260.07,430.57 260.52,430.73 260.97,433.12 261.41,429.99 261.86,433.91 262.31,436.50 262.76,434.09 263.20,435.44 263.65,430.30 264.10,434.24 264.54,444.30 264.99,433.43 265.44,433.73 265.89,431.48 266.33,424.83 266.78,433.70 267.23,430.46 267.68,431.79 268.12,440.02 268.57,434.24 269.02,440.39 269.47,435.26 269.91,440.53 270.36,441.83 270.81,432.97 271.25,440.53 271.70,440.35 272.15,438.03 272.60,447.08 273.04,441.98 273.49,440.73 273.94,435.56 274.39,435.53 274.83,438.20 275.28,428.75 275.73,437.33 276.18,438.56 276.62,432.23 277.07,437.08 277.52,439.15 277.97,442.27 278.41,441.47 278.86,442.13 279.31,443.63 279.75,439.75 280.20,434.86 280.65,437.13 281.10,439.90 281.54,441.91 281.99,441.33 282.44,435.92 282.89,439.52 283.33,437.41 283.78,440.09 284.23,433.24 284.68,434.99 285.12,436.29 285.57,428.68 286.02,427.65 286.46,435.57 286.91,440.10 287.36,440.29 287.81,437.56 288.25,436.77 288.70,435.92 289.15,440.63 289.60,442.61 290.04,441.88 290.49,435.49 290.94,440.77 291.39,439.72 291.83,443.06 292.28,436.48 292.73,432.77 293.17,432.35 293.62,433.01 294.07,429.07 294.52,428.89 294.96,434.78 295.41,437.27 295.86,442.35 296.31,437.45 296.75,448.26 297.20,438.69 297.65,441.64 298.10,440.02 298.54,439.46 298.99,439.94 299.44,438.97 299.89,443.46 300.33,443.19 300.78,439.94 301.23,433.25 301.67,439.21 302.12,431.26 302.57,431.88 303.02,437.80 303.46,439.65 303.91,431.02 304.36,426.64 304.81,438.20 305.25,429.82 305.70,441.84 306.15,432.80 306.60,441.29 307.04,438.09 307.49,439.96 307.94,437.08 308.38,433.27 308.83,442.58 309.28,432.42 309.73,430.91 310.17,437.37 310.62,437.02 311.07,428.68 311.52,433.43 311.96,437.37 312.41,434.26 312.86,442.31 313.31,439.23 313.75,433.55 314.20,443.19 314.65,442.01 315.10,439.26 315.54,442.70 315.99,444.47 316.44,444.90 316.88,442.43 317.33,448.75 317.78,447.17 318.23,444.91 318.67,442.45 319.12,447.79 319.57,444.05 320.02,447.58 320.46,444.29 320.91,437.91 321.36,435.28 321.81,427.05 322.25,432.21 322.70,434.88 323.15,434.81 323.59,434.69 324.04,433.42 324.49,443.69 324.94,438.59 325.38,439.51 325.83,435.89 326.28,436.39 326.73,436.39 327.17,432.41 327.62,428.43 328.07,430.09 328.52,433.72 328.96,433.24 329.41,434.35 329.86,423.59 330.31,428.48 330.75,431.34 331.20,426.90 331.65,432.56 332.09,439.93 332.54,438.40 332.99,436.39 333.44,441.27 333.88,434.84 334.33,436.99 334.78,442.83 335.23,441.55 335.67,440.46 336.12,435.27 336.57,439.19 337.02,436.51 337.46,438.91 337.91,438.57 338.36,438.39 338.80,431.07 339.25,436.45 339.70,435.51 340.15,436.27 340.59,432.96 341.04,431.25 341.49,437.32 341.94,433.78 342.38,441.22 342.83,436.44 343.28,442.22 343.73,439.88 344.17,440.85 344.62,439.89 345.07,435.20 345.51,443.06 345.96,436.12 346.41,436.97 346.86,436.39 347.30,431.55 347.75,430.30 348.20,437.63 348.65,431.23 349.09,429.42 349.54,438.19 349.99,429.47 350.44,439.17 350.88,439.87 351.33,444.32 351.78,443.84 352.23,436.01 352.67,439.76 353.12,436.23 353.57,438.63 354.01,431.62 354.46,441.54 354.91,434.02 355.36,429.23 355.80,437.66 356.25,440.25 356.70,435.00 357.15,435.60 357.59,439.15 358.04,442.21 358.49,439.90 358.94,440.20 359.38,437.63 359.83,443.27 360.28,444.92 360.72,448.29 361.17,439.46 361.62,440.79 362.07,436.00 362.51,438.95 362.96,442.47 363.41,430.80 363.86,431.20 364.30,435.34 364.75,432.05 365.20,429.40 365.65,436.83 366.09,431.20 366.54,441.68 366.99,432.84 367.44,426.34 367.88,438.00 368.33,440.04 368.78,435.60 369.22,439.45 369.67,435.05 370.12,436.51 370.57,432.97 371.01,431.14 371.46,438.47 371.91,438.09 372.36,430.61 372.80,435.29 373.25,437.47 373.70,434.10 374.15,433.80 374.59,436.88 375.04,440.12 375.49,440.77 375.93,434.55 376.38,442.31 376.83,432.76 377.28,441.52 377.72,440.17 378.17,444.33 378.62,447.32 379.07,445.47 379.51,442.92 379.96,434.65 380.41,440.93 380.86,433.81 381.30,434.58 381.75,438.30 382.20,435.90 382.64,430.48 383.09,429.91 383.54,434.21 383.99,434.62 384.43,431.21 384.88,430.77 385.33,434.28 385.78,433.09 386.22,438.29 386.67,434.86 387.12,437.84 387.57,434.30 388.01,440.25 388.46,438.98 388.91,435.11 389.36,440.48 389.80,432.68 390.25,423.95 390.70,430.94 391.14,428.46 391.59,421.99 392.04,424.38 392.49,424.22 392.93,421.16 393.38,431.21 393.83,428.81 394.28,432.00 394.72,439.19 395.17,446.44 395.62,443.20 396.07,447.07 396.51,441.18 396.96,445.13 397.41,446.61 397.85,441.92 398.30,446.49 398.75,443.58 399.20,432.19 399.64,439.21 400.09,442.29 400.54,433.42 400.99,435.28 401.43,434.83 401.88,437.69 402.33,438.39 402.78,439.69 403.22,441.70 403.67,435.48 404.12,441.67 404.57,437.62 405.01,440.00 405.46,441.70 405.91,446.10 406.35,437.30 406.80,437.27 407.25,436.33 407.70,433.24 408.14,429.20 408.59,430.02 409.04,438.08 409.49,435.22 409.93,428.27 410.38,432.43 410.83,432.95 411.28,435.75 411.72,427.11 412.17,439.33 412.62,432.27 413.06,436.85 413.51,440.92 413.96,443.74 414.41,435.77 414.85,439.05 415.30,435.71 415.75,436.82 416.20,443.54 416.64,440.70 417.09,444.97 417.54,432.66 417.99,434.81 418.43,438.50 418.88,435.06 419.33,439.65 419.78,437.26 420.22,435.00 420.67,433.22 421.12,438.90 421.56,439.22 422.01,440.83 422.46,437.53 422.91,446.66 423.35,441.99 423.80,441.92 424.25,436.77 424.70,443.22 425.14,434.07 425.59,433.47 426.04,431.09 426.49,437.08 426.93,435.87 427.38,431.53 427.83,433.77 428.27,431.21 428.72,430.88 429.17,431.35 429.62,433.94 430.06,436.42 430.51,439.05 430.96,436.90 431.41,438.93 431.85,439.60 432.30,436.59 432.75,442.61 433.20,433.98 433.64,441.05 434.09,435.43 434.54,440.32 434.98,436.60 435.43,437.94 435.88,441.62 436.33,434.67 436.77,440.26 437.22,437.13 437.67,432.85 438.12,426.21 438.56,439.79 439.01,451.39 439.46,440.11 439.91,438.05 440.35,440.28 440.80,436.16 441.25,443.46 441.70,435.54 442.14,438.27 442.59,439.60 443.04,438.84 443.48,435.92 443.93,433.31 444.38,436.27 444.83,435.62 445.27,434.02 445.72,433.80 446.17,428.64 446.62,429.53 447.06,438.65 447.51,435.08 447.96,438.48 448.41,436.00 448.85,437.78 449.30,439.97 449.75,435.81 450.19,440.28 450.64,438.25 451.09,439.85 451.54,436.59 451.98,439.24 452.43,436.04 452.88,436.25 453.33,430.83 453.77,438.31 454.22,434.39 454.67,435.08 455.12,435.90 455.56,428.17 456.01,435.26 456.46,433.44 456.91,434.31 457.35,438.54 457.80,439.47 458.25,444.45 458.69,444.71 459.14,442.30 459.59,448.80 460.04,438.92 460.48,435.20 460.93,444.93 461.38,437.56 461.83,434.39 462.27,438.77 462.72,438.16 463.17,439.75 463.62,431.42 464.06,431.74 464.51,436.03 464.96,433.23 465.40,430.39 465.85,434.55 466.30,432.83 466.75,432.15 467.19,436.56 467.64,435.82 468.09,434.63 468.54,435.01 468.98,433.44 469.43,445.45 469.88,436.65 470.33,437.02 470.77,427.60 471.22,440.53 471.67,435.53 472.11,437.56 472.56,433.27 473.01,435.28 473.46,432.67 473.90,442.24 474.35,438.32 474.80,435.81 475.25,434.62 475.69,442.22 476.14,443.03 476.59,434.39 477.04,444.80 477.48,448.54 477.93,444.39 478.38,441.72 478.83,442.92 479.27,437.84 479.72,438.05 480.17,433.73 480.61,436.52 481.06,435.21" fill="none" stroke="#f21820" stroke-width="3.8" stroke-linejoin="round" stroke-linecap="round" />
<rect x="69.5" y="378.3" width="412.0" height="119.59999999999997" fill="none" stroke="#5a5a5a" stroke-width="1.5"/>
<line x1="176.86" y1="497.90" x2="176.86" y2="493.90" stroke="#5a5a5a" stroke-width="1.3" />
<line x1="176.86" y1="378.30" x2="176.86" y2="382.30" stroke="#5a5a5a" stroke-width="1.3" />
<line x1="284.23" y1="497.90" x2="284.23" y2="493.90" stroke="#5a5a5a" stroke-width="1.3" />
<line x1="284.23" y1="378.30" x2="284.23" y2="382.30" stroke="#5a5a5a" stroke-width="1.3" />
<line x1="391.59" y1="497.90" x2="391.59" y2="493.90" stroke="#5a5a5a" stroke-width="1.3" />
<line x1="391.59" y1="378.30" x2="391.59" y2="382.30" stroke="#5a5a5a" stroke-width="1.3" />
<line x1="69.50" y1="408.00" x2="73.50" y2="408.00" stroke="#5a5a5a" stroke-width="1.3" />
<line x1="481.50" y1="408.00" x2="477.50" y2="408.00" stroke="#5a5a5a" stroke-width="1.3" />
<line x1="69.50" y1="437.90" x2="73.50" y2="437.90" stroke="#5a5a5a" stroke-width="1.3" />
<line x1="481.50" y1="437.90" x2="477.50" y2="437.90" stroke="#5a5a5a" stroke-width="1.3" />
<line x1="69.50" y1="467.80" x2="73.50" y2="467.80" stroke="#5a5a5a" stroke-width="1.3" />
<line x1="481.50" y1="467.80" x2="477.50" y2="467.80" stroke="#5a5a5a" stroke-width="1.3" />
<text transform="translate(52.57,384.30) scale(1.0600,1)" font-size="16" font-weight="normal" fill="#111">8</text>
<text transform="translate(52.40,414.20) scale(1.0600,1)" font-size="16" font-weight="normal" fill="#111">4</text>
<text transform="translate(52.48,444.10) scale(1.0600,1)" font-size="16" font-weight="normal" fill="#111">0</text>
<text transform="translate(46.71,474.00) scale(1.0600,1)" font-size="16" font-weight="normal" fill="#111">-4</text>
<text transform="translate(46.88,503.90) scale(1.0600,1)" font-size="16" font-weight="normal" fill="#111">-8</text>
<text transform="translate(64.75,521.30) scale(1.0600,1)" font-size="16" font-weight="normal" fill="#111">8</text>
<text transform="translate(167.07,521.30) scale(1.0600,1)" font-size="16" font-weight="normal" fill="#111">14</text>
<text transform="translate(274.69,521.30) scale(1.0600,1)" font-size="16" font-weight="normal" fill="#111">20</text>
<text transform="translate(382.09,521.30) scale(1.0600,1)" font-size="16" font-weight="normal" fill="#111">26</text>
<text transform="translate(230.95,544.40) scale(1.0392,1)" font-size="18.7" font-weight="normal" fill="#111">Date [day]</text>
<text transform="translate(36.80,492.00) rotate(-90) scale(1.0006,1)" font-size="17.5" font-weight="normal" fill="#111">Residual (cm)</text>
<text transform="translate(69.81,399.00) scale(1.0583,1)" font-size="16.4" font-weight="normal" fill="#2626a4" stroke="#2626a4" stroke-width="0.25">RMS:1.54cm</text>
<text transform="translate(69.81,489.20) scale(1.0583,1)" font-size="16.4" font-weight="normal" fill="#b4222c" stroke="#b4222c" stroke-width="0.25">RMS:0.66cm</text>
<text transform="translate(449.76,393.70) scale(1.0349,1)" font-size="13.5" font-weight="normal" fill="#111" stroke="#111" stroke-width="0.5">(c)</text>
<defs>
<clipPath id="cE"><rect x="583.5" y="64.4" width="263.0" height="187.0"/></clipPath>
<clipPath id="cN"><rect x="882.5" y="64.4" width="261.79999999999995" height="187.0"/></clipPath>
<clipPath id="cU"><rect x="583.75" y="273.5" width="263.75" height="187.3"/></clipPath>
<clipPath id="cD"><rect x="882.1" y="273.5" width="263.30000000000007" height="187.10000000000002"/></clipPath>
</defs>
<line x1="649.25" y1="64.40" x2="649.25" y2="251.40" stroke="#555555" stroke-width="1.5" stroke-dasharray="7.4,7" stroke-dashoffset="4.1"/>
<line x1="715.00" y1="64.40" x2="715.00" y2="251.40" stroke="#555555" stroke-width="1.5" stroke-dasharray="7.4,7" stroke-dashoffset="4.1"/>
<line x1="780.75" y1="64.40" x2="780.75" y2="251.40" stroke="#555555" stroke-width="1.5" stroke-dasharray="7.4,7" stroke-dashoffset="4.1"/>
<line x1="583.50" y1="204.65" x2="846.50" y2="204.65" stroke="#555555" stroke-width="1.5" stroke-dasharray="7.5,7" stroke-dashoffset="-0.9"/>
<line x1="583.50" y1="157.90" x2="846.50" y2="157.90" stroke="#555555" stroke-width="1.5" stroke-dasharray="7.5,7" stroke-dashoffset="-0.9"/>
<line x1="583.50" y1="111.15" x2="846.50" y2="111.15" stroke="#555555" stroke-width="1.5" stroke-dasharray="7.5,7" stroke-dashoffset="-0.9"/>
<polyline points="583.50,-76.52 584.05,-69.84 584.60,-63.14 585.14,-56.35 585.69,-49.50 586.24,-42.62 586.79,-35.77 587.34,-29.00 587.88,-22.32 588.43,-15.75 588.98,-9.27 589.53,-2.89 590.08,3.40 590.62,9.58 591.17,15.66 591.72,21.60 592.27,27.40 592.81,33.06 593.36,38.60 593.91,44.06 594.46,49.49 595.01,54.89 595.55,60.28 596.10,65.64 596.65,71.03 597.20,76.41 597.75,81.72 598.29,86.89 598.84,91.88 599.39,96.66 599.94,101.19 600.49,105.44 601.03,109.35 601.58,112.95 602.13,116.48 602.68,119.94 603.23,123.32 603.77,126.57 604.32,129.67 604.87,132.62 605.42,135.40 605.96,138.03 606.51,140.51 607.06,142.83 607.61,144.99 608.16,147.01 608.70,148.88 609.25,150.61 609.80,152.17 610.35,153.52 610.90,154.53 611.44,155.30 611.99,156.07 612.54,157.05 613.09,158.46 613.64,160.26 614.18,162.32 614.73,164.50 615.28,166.68 615.83,168.80 616.38,170.85 616.92,172.80 617.47,174.62 618.02,176.24 618.57,177.65 619.11,179.03 619.66,180.32 620.21,181.49 620.76,182.54 621.31,183.51 621.85,184.42 622.40,185.29 622.95,186.13 623.50,186.91 624.05,187.64 624.59,188.34 625.14,189.03 625.69,189.73 626.24,190.43 626.79,191.13 627.33,191.80 627.88,192.43 628.43,193.02 628.98,193.59 629.52,194.17 630.07,194.79 630.62,195.45 631.17,196.15 631.72,196.87 632.26,197.53 632.81,198.06 633.36,198.42 633.91,198.58 634.46,198.60 635.00,198.58 635.55,198.64 636.10,198.90 636.65,199.40 637.20,200.11 637.74,200.95 638.29,201.80 638.84,202.57 639.39,203.20 639.94,203.68 640.48,204.02 641.03,204.23 641.58,204.31 642.13,204.26 642.67,204.08 643.22,203.84 643.77,203.59 644.32,203.39 644.87,203.28 645.41,203.28 645.96,203.38 646.51,203.56 647.06,203.84 647.61,204.19 648.15,204.61 648.70,205.03 649.25,205.40 649.80,205.67 650.35,205.83 650.89,205.92 651.44,205.98 651.99,206.06 652.54,206.19 653.09,206.36 653.63,206.53 654.18,206.66 654.73,206.74 655.28,206.78 655.83,206.82 656.37,206.92 656.92,207.14 657.47,207.47 658.02,207.91 658.56,208.38 659.11,208.84 659.66,209.21 660.21,209.51 660.76,209.79 661.30,210.11 661.85,210.48 662.40,210.91 662.95,211.39 663.50,211.92 664.04,212.50 664.59,213.12 665.14,213.78 665.69,214.44 666.24,215.06 666.78,215.53 667.33,215.82 667.88,215.95 668.43,215.94 668.98,215.82 669.52,215.62 670.07,215.41 670.62,215.22 671.17,215.12 671.71,215.12 672.26,215.25 672.81,215.49 673.36,215.80 673.91,216.09 674.45,216.29 675.00,216.35 675.55,216.28 676.10,216.12 676.65,215.95 677.19,215.86 677.74,215.88 678.29,216.00 678.84,216.15 679.39,216.26 679.93,216.28 680.48,216.19 681.03,215.98 681.58,215.68 682.12,215.31 682.67,214.91 683.22,214.48 683.77,214.06 684.32,213.65 684.86,213.24 685.41,212.84 685.96,212.44 686.51,212.03 687.06,211.64 687.60,211.33 688.15,211.12 688.70,211.05 689.25,211.13 689.80,211.34 690.34,211.65 690.89,212.02 691.44,212.39 691.99,212.75 692.54,213.06 693.08,213.34 693.63,213.58 694.18,213.80 694.73,213.97 695.27,214.09 695.82,214.19 696.37,214.27 696.92,214.37 697.47,214.53 698.01,214.76 698.56,215.08 699.11,215.49 699.66,215.93 700.21,216.36 700.75,216.70 701.30,216.93 701.85,217.02 702.40,217.00 702.95,216.91 703.49,216.80 704.04,216.74 704.59,216.75 705.14,216.85 705.69,217.02 706.23,217.24 706.78,217.50 707.33,217.80 707.88,218.14 708.42,218.54 708.97,218.97 709.52,219.39 710.07,219.72 710.62,219.91 711.16,219.96 711.71,219.91 712.26,219.80 712.81,219.69 713.36,219.60 713.90,219.53 714.45,219.47 715.00,219.44 715.55,219.48 716.10,219.63 716.64,219.91 717.19,220.30 717.74,220.73 718.29,221.13 718.84,221.45 719.38,221.68 719.93,221.85 720.48,221.98 721.03,222.11 721.58,222.22 722.12,222.29 722.67,222.30 723.22,222.26 723.77,222.20 724.31,222.19 724.86,222.25 725.41,222.40 725.96,222.60 726.51,222.80 727.05,222.95 727.60,223.01 728.15,223.02 728.70,223.01 729.25,223.04 729.79,223.11 730.34,223.22 730.89,223.35 731.44,223.45 731.99,223.52 732.53,223.55 733.08,223.55 733.63,223.51 734.18,223.43 734.73,223.32 735.27,223.20 735.82,223.08 736.37,223.00 736.92,223.00 737.46,223.09 738.01,223.30 738.56,223.59 739.11,223.93 739.66,224.25 740.20,224.52 740.75,224.69 741.30,224.75 741.85,224.71 742.40,224.59 742.94,224.39 743.49,224.13 744.04,223.84 744.59,223.54 745.14,223.29 745.68,223.12 746.23,223.07 746.78,223.12 747.33,223.24 747.88,223.39 748.42,223.55 748.97,223.68 749.52,223.79 750.07,223.89 750.61,223.98 751.16,224.08 751.71,224.20 752.26,224.32 752.81,224.45 753.35,224.55 753.90,224.62 754.45,224.63 755.00,224.58 755.55,224.47 756.09,224.30 756.64,224.09 757.19,223.88 757.74,223.70 758.29,223.59 758.83,223.58 759.38,223.69 759.93,223.89 760.48,224.16 761.02,224.45 761.57,224.73 762.12,224.98 762.67,225.19 763.22,225.38 763.76,225.54 764.31,225.69 764.86,225.83 765.41,225.98 765.96,226.14 766.50,226.32 767.05,226.49 767.60,226.64 768.15,226.74 768.70,226.79 769.24,226.78 769.79,226.75 770.34,226.71 770.89,226.70 771.44,226.72 771.98,226.77 772.53,226.82 773.08,226.84 773.63,226.79 774.17,226.67 774.72,226.48 775.27,226.29 775.82,226.14 776.37,226.06 776.91,226.06 777.46,226.11 778.01,226.17 778.56,226.23 779.11,226.28 779.65,226.32 780.20,226.35 780.75,226.37 781.30,226.39 781.85,226.44 782.39,226.52 782.94,226.66 783.49,226.83 784.04,227.01 784.59,227.18 785.13,227.30 785.68,227.37 786.23,227.39 786.78,227.38 787.33,227.37 787.87,227.39 788.42,227.43 788.97,227.49 789.52,227.53 790.06,227.51 790.61,227.43 791.16,227.28 791.71,227.12 792.26,226.98 792.80,226.91 793.35,226.92 793.90,227.01 794.45,227.16 795.00,227.33 795.54,227.50 796.09,227.67 796.64,227.83 797.19,228.01 797.74,228.20 798.28,228.42 798.83,228.65 799.38,228.89 799.93,229.13 800.48,229.38 801.02,229.65 801.57,229.95 802.12,230.25 802.67,230.51 803.21,230.71 803.76,230.81 804.31,230.80 804.86,230.73 805.41,230.65 805.95,230.60 806.50,230.63 807.05,230.72 807.60,230.85 808.15,230.99 808.69,231.10 809.24,231.17 809.79,231.19 810.34,231.17 810.89,231.14 811.43,231.10 811.98,231.06 812.53,231.04 813.08,231.03 813.62,231.04 814.17,231.05 814.72,231.08 815.27,231.14 815.82,231.22 816.36,231.30 816.91,231.36 817.46,231.39 818.01,231.36 818.56,231.30 819.10,231.23 819.65,231.20 820.20,231.22 820.75,231.32 821.30,231.49 821.84,231.70 822.39,231.91 822.94,232.10 823.49,232.23 824.04,232.30 824.58,232.32 825.13,232.29 825.68,232.23 826.23,232.15 826.77,232.04 827.32,231.92 827.87,231.82 828.42,231.74 828.97,231.70 829.51,231.73 830.06,231.81 830.61,231.92 831.16,232.05 831.71,232.18 832.25,232.30 832.80,232.41 833.35,232.52 833.90,232.65 834.45,232.78 834.99,232.91 835.54,233.03 836.09,233.11 836.64,233.16 837.19,233.18 837.73,233.18 838.28,233.17 838.83,233.17 839.38,233.17 839.92,233.18 840.47,233.19 841.02,233.20 841.57,233.22 842.12,233.26 842.66,233.31 843.21,233.37 843.76,233.46 844.31,233.54 844.86,233.62 845.40,233.67 845.95,233.67 846.50,233.62" fill="none" stroke="#22e022" stroke-width="3.6" stroke-linejoin="round" stroke-linecap="round" clip-path="url(#cE)"/>
<polyline points="583.50,-75.90 584.05,-73.18 584.60,-69.90 585.14,-66.13 585.69,-61.90 586.24,-57.25 586.79,-52.18 587.34,-46.71 587.88,-40.86 588.43,-34.66 588.98,-28.12 589.53,-21.24 590.08,-13.98 590.62,-6.33 591.17,1.71 591.72,10.08 592.27,18.69 592.81,27.44 593.36,36.22 593.91,44.99 594.46,53.72 595.01,62.44 595.55,72.69 596.10,85.88 596.65,99.02 597.20,108.97 597.75,114.46 598.29,118.51 598.84,122.13 599.39,126.11 599.94,130.22 600.49,134.21 601.03,137.86 601.58,140.97 602.13,143.48 602.68,145.61 603.23,147.50 603.77,149.29 604.32,151.09 604.87,153.00 605.42,155.07 605.96,157.30 606.51,159.58 607.06,161.82 607.61,163.96 608.16,165.98 608.70,167.90 609.25,169.77 609.80,171.64 610.35,173.52 610.90,175.41 611.44,177.25 611.99,179.01 612.54,180.72 613.09,182.39 613.64,184.05 614.18,185.75 614.73,187.51 615.28,189.30 615.83,191.02 616.38,192.60 616.92,193.95 617.47,195.04 618.02,195.91 618.57,196.64 619.11,197.36 619.66,198.14 620.21,198.97 620.76,199.84 621.31,200.72 621.85,201.58 622.40,202.40 622.95,203.22 623.50,204.06 624.05,204.93 624.59,205.82 625.14,206.66 625.69,207.39 626.24,207.97 626.79,208.39 627.33,208.71 627.88,209.02 628.43,209.42 628.98,209.94 629.52,210.59 630.07,211.33 630.62,212.08 631.17,212.83 631.72,213.52 632.26,214.15 632.81,214.74 633.36,215.31 633.91,215.87 634.46,216.44 635.00,217.04 635.55,217.67 636.10,218.33 636.65,219.03 637.20,219.75 637.74,220.43 638.29,221.04 638.84,221.54 639.39,221.92 639.94,222.19 640.48,222.35 641.03,222.44 641.58,222.50 642.13,222.54 642.67,222.61 643.22,222.72 643.77,222.84 644.32,222.96 644.87,223.04 645.41,223.08 645.96,223.11 646.51,223.18 647.06,223.33 647.61,223.57 648.15,223.87 648.70,224.18 649.25,224.45 649.80,224.65 650.35,224.81 650.89,224.95 651.44,225.12 651.99,225.33 652.54,225.56 653.09,225.80 653.63,226.00 654.18,226.16 654.73,226.28 655.28,226.41 655.83,226.57 656.37,226.79 656.92,227.07 657.47,227.41 658.02,227.80 658.56,228.20 659.11,228.58 659.66,228.90 660.21,229.16 660.76,229.32 661.30,229.40 661.85,229.41 662.40,229.39 662.95,229.36 663.50,229.34 664.04,229.36 664.59,229.41 665.14,229.51 665.69,229.65 666.24,229.80 666.78,229.95 667.33,230.07 667.88,230.15 668.43,230.20 668.98,230.24 669.52,230.29 670.07,230.36 670.62,230.46 671.17,230.60 671.71,230.79 672.26,231.02 672.81,231.23 673.36,231.41 673.91,231.51 674.45,231.53 675.00,231.50 675.55,231.45 676.10,231.43 676.65,231.44 677.19,231.50 677.74,231.59 678.29,231.71 678.84,231.86 679.39,232.05 679.93,232.27 680.48,232.50 681.03,232.70 681.58,232.84 682.12,232.91 682.67,232.94 683.22,232.94 683.77,232.94 684.32,232.98 684.86,233.04 685.41,233.11 685.96,233.19 686.51,233.24 687.06,233.27 687.60,233.29 688.15,233.31 688.70,233.35 689.25,233.40 689.80,233.46 690.34,233.52 690.89,233.57 691.44,233.61 691.99,233.64 692.54,233.67 693.08,233.70 693.63,233.73 694.18,233.76 694.73,233.80 695.27,233.86 695.82,233.95 696.37,234.07 696.92,234.23 697.47,234.40 698.01,234.57 698.56,234.70 699.11,234.78 699.66,234.81 700.21,234.80 700.75,234.75 701.30,234.68 701.85,234.60 702.40,234.51 702.95,234.44 703.49,234.39 704.04,234.36 704.59,234.36 705.14,234.40 705.69,234.45 706.23,234.53 706.78,234.60 707.33,234.67 707.88,234.72 708.42,234.74 708.97,234.75 709.52,234.76 710.07,234.79 710.62,234.84 711.16,234.92 711.71,234.99 712.26,235.05 712.81,235.08 713.36,235.08 713.90,235.06 714.45,235.04 715.00,235.06 715.55,235.13 716.10,235.25 716.64,235.39 717.19,235.52 717.74,235.63 718.29,235.68 718.84,235.69 719.38,235.65 719.93,235.60 720.48,235.57 721.03,235.56 721.58,235.60 722.12,235.68 722.67,235.78 723.22,235.91 723.77,236.06 724.31,236.20 724.86,236.34 725.41,236.45 725.96,236.53 726.51,236.57 727.05,236.58 727.60,236.59 728.15,236.60 728.70,236.62 729.25,236.68 729.79,236.75 730.34,236.85 730.89,236.95 731.44,237.07 731.99,237.19 732.53,237.32 733.08,237.46 733.63,237.61 734.18,237.74 734.73,237.86 735.27,237.96 735.82,238.03 736.37,238.08 736.92,238.10 737.46,238.11 738.01,238.11 738.56,238.12 739.11,238.11 739.66,238.08 740.20,238.04 740.75,237.99 741.30,237.94 741.85,237.90 742.40,237.87 742.94,237.85 743.49,237.84 744.04,237.85 744.59,237.90 745.14,237.98 745.68,238.08 746.23,238.20 746.78,238.33 747.33,238.43 747.88,238.52 748.42,238.58 748.97,238.62 749.52,238.65 750.07,238.68 750.61,238.71 751.16,238.73 751.71,238.75 752.26,238.77 752.81,238.77 753.35,238.78 753.90,238.79 754.45,238.80 755.00,238.82 755.55,238.84 756.09,238.87 756.64,238.88 757.19,238.89 757.74,238.90 758.29,238.90 758.83,238.90 759.38,238.91 759.93,238.94 760.48,238.97 761.02,239.03 761.57,239.09 762.12,239.16 762.67,239.23 763.22,239.30 763.76,239.35 764.31,239.39 764.86,239.42 765.41,239.44 765.96,239.45 766.50,239.45 767.05,239.44 767.60,239.42 768.15,239.38 768.70,239.32 769.24,239.24 769.79,239.14 770.34,239.04 770.89,238.94 771.44,238.83 771.98,238.73 772.53,238.64 773.08,238.56 773.63,238.50 774.17,238.48 774.72,238.51 775.27,238.57 775.82,238.65 776.37,238.75 776.91,238.84 777.46,238.90 778.01,238.92 778.56,238.89 779.11,238.81 779.65,238.72 780.20,238.62 780.75,238.54 781.30,238.50 781.85,238.50 782.39,238.54 782.94,238.60 783.49,238.67 784.04,238.71 784.59,238.71 785.13,238.64 785.68,238.50 786.23,238.33 786.78,238.15 787.33,237.98 787.87,237.85 788.42,237.77 788.97,237.71 789.52,237.68 790.06,237.65 790.61,237.61 791.16,237.57 791.71,237.51 792.26,237.46 792.80,237.42 793.35,237.42 793.90,237.47 794.45,237.57 795.00,237.69 795.54,237.81 796.09,237.88 796.64,237.91 797.19,237.90 797.74,237.85 798.28,237.80 798.83,237.74 799.38,237.69 799.93,237.63 800.48,237.55 801.02,237.48 801.57,237.40 802.12,237.35 802.67,237.33 803.21,237.35 803.76,237.38 804.31,237.41 804.86,237.43 805.41,237.42 805.95,237.42 806.50,237.42 807.05,237.44 807.60,237.48 808.15,237.53 808.69,237.56 809.24,237.58 809.79,237.57 810.34,237.56 810.89,237.57 811.43,237.58 811.98,237.60 812.53,237.62 813.08,237.63 813.62,237.64 814.17,237.67 814.72,237.72 815.27,237.78 815.82,237.83 816.36,237.87 816.91,237.88 817.46,237.85 818.01,237.81 818.56,237.77 819.10,237.74 819.65,237.73 820.20,237.75 820.75,237.79 821.30,237.84 821.84,237.88 822.39,237.89 822.94,237.86 823.49,237.79 824.04,237.71 824.58,237.63 825.13,237.58 825.68,237.57 826.23,237.59 826.77,237.61 827.32,237.62 827.87,237.60 828.42,237.57 828.97,237.53 829.51,237.51 830.06,237.51 830.61,237.53 831.16,237.57 831.71,237.62 832.25,237.68 832.80,237.76 833.35,237.85 833.90,237.96 834.45,238.06 834.99,238.15 835.54,238.20 836.09,238.22 836.64,238.22 837.19,238.19 837.73,238.16 838.28,238.13 838.83,238.11 839.38,238.09 839.92,238.07 840.47,238.05 841.02,238.03 841.57,238.03 842.12,238.05 842.66,238.11 843.21,238.19 843.76,238.28 844.31,238.38 844.86,238.49 845.40,238.59 845.95,238.71 846.50,238.83" fill="none" stroke="#0000c8" stroke-width="3.6" stroke-linejoin="round" stroke-linecap="round" clip-path="url(#cE)"/>
<polyline points="583.50,-30.08 584.05,-26.40 584.60,-22.23 585.14,-17.59 585.69,-12.55 586.24,-7.15 586.79,-1.47 587.34,4.45 587.88,10.63 588.43,17.11 588.98,23.96 589.53,31.22 590.08,38.89 590.62,46.88 591.17,55.06 591.72,63.28 592.27,71.33 592.81,79.37 593.36,88.13 593.91,98.44 594.46,111.15 595.01,136.91 595.55,146.98 596.10,148.15 596.65,149.06 597.20,149.72 597.75,150.20 598.29,150.57 598.84,150.99 599.39,151.57 599.94,152.18 600.49,152.89 601.03,153.72 601.58,154.71 602.13,155.86 602.68,157.17 603.23,158.64 603.77,160.50 604.32,162.68 604.87,165.07 605.42,167.56 605.96,170.05 606.51,172.46 607.06,174.74 607.61,176.84 608.16,178.88 608.70,181.00 609.25,183.17 609.80,185.32 610.35,187.36 610.90,189.23 611.44,190.93 611.99,192.55 612.54,194.25 613.09,196.07 613.64,198.00 614.18,200.00 614.73,201.97 615.28,203.83 615.83,205.48 616.38,206.93 616.92,208.26 617.47,209.48 618.02,210.60 618.57,211.65 619.11,212.63 619.66,213.57 620.21,214.46 620.76,215.31 621.31,216.12 621.85,216.92 622.40,217.69 622.95,218.41 623.50,219.08 624.05,219.66 624.59,220.16 625.14,220.59 625.69,220.98 626.24,221.33 626.79,221.65 627.33,221.94 627.88,222.20 628.43,222.47 628.98,222.78 629.52,223.14 630.07,223.54 630.62,223.95 631.17,224.33 631.72,224.66 632.26,224.92 632.81,225.17 633.36,225.44 633.91,225.75 634.46,226.08 635.00,226.40 635.55,226.64 636.10,226.77 636.65,226.80 637.20,226.76 637.74,226.70 638.29,226.67 638.84,226.73 639.39,226.89 639.94,227.14 640.48,227.45 641.03,227.76 641.58,228.03 642.13,228.23 642.67,228.36 643.22,228.47 643.77,228.59 644.32,228.76 644.87,228.99 645.41,229.27 645.96,229.57 646.51,229.84 647.06,230.08 647.61,230.28 648.15,230.45 648.70,230.64 649.25,230.84 649.80,231.08 650.35,231.33 650.89,231.60 651.44,231.87 651.99,232.12 652.54,232.34 653.09,232.51 653.63,232.65 654.18,232.74 654.73,232.80 655.28,232.86 655.83,232.94 656.37,233.06 656.92,233.21 657.47,233.38 658.02,233.55 658.56,233.70 659.11,233.84 659.66,233.98 660.21,234.12 660.76,234.28 661.30,234.43 661.85,234.56 662.40,234.69 662.95,234.81 663.50,234.93 664.04,235.06 664.59,235.18 665.14,235.29 665.69,235.40 666.24,235.49 666.78,235.59 667.33,235.71 667.88,235.86 668.43,236.03 668.98,236.21 669.52,236.39 670.07,236.54 670.62,236.67 671.17,236.75 671.71,236.79 672.26,236.79 672.81,236.76 673.36,236.72 673.91,236.69 674.45,236.68 675.00,236.68 675.55,236.69 676.10,236.70 676.65,236.73 677.19,236.77 677.74,236.85 678.29,236.94 678.84,237.02 679.39,237.07 679.93,237.07 680.48,237.04 681.03,236.99 681.58,236.98 682.12,237.01 682.67,237.11 683.22,237.26 683.77,237.43 684.32,237.61 684.86,237.80 685.41,237.98 685.96,238.16 686.51,238.31 687.06,238.42 687.60,238.46 688.15,238.42 688.70,238.30 689.25,238.15 689.80,237.98 690.34,237.83 690.89,237.73 691.44,237.69 691.99,237.71 692.54,237.79 693.08,237.90 693.63,238.03 694.18,238.15 694.73,238.24 695.27,238.27 695.82,238.26 696.37,238.19 696.92,238.10 697.47,238.01 698.01,237.93 698.56,237.90 699.11,237.91 699.66,237.97 700.21,238.06 700.75,238.15 701.30,238.22 701.85,238.27 702.40,238.28 702.95,238.27 703.49,238.25 704.04,238.22 704.59,238.21 705.14,238.21 705.69,238.25 706.23,238.30 706.78,238.37 707.33,238.43 707.88,238.47 708.42,238.49 708.97,238.50 709.52,238.50 710.07,238.51 710.62,238.53 711.16,238.55 711.71,238.59 712.26,238.63 712.81,238.66 713.36,238.69 713.90,238.71 714.45,238.73 715.00,238.77 715.55,238.82 716.10,238.89 716.64,238.95 717.19,239.01 717.74,239.04 718.29,239.05 718.84,239.06 719.38,239.07 719.93,239.11 720.48,239.17 721.03,239.23 721.58,239.30 722.12,239.34 722.67,239.35 723.22,239.33 723.77,239.28 724.31,239.21 724.86,239.14 725.41,239.08 725.96,239.04 726.51,239.05 727.05,239.08 727.60,239.15 728.15,239.24 728.70,239.33 729.25,239.41 729.79,239.50 730.34,239.58 730.89,239.64 731.44,239.67 731.99,239.68 732.53,239.67 733.08,239.64 733.63,239.62 734.18,239.61 734.73,239.61 735.27,239.62 735.82,239.62 736.37,239.61 736.92,239.61 737.46,239.61 738.01,239.63 738.56,239.65 739.11,239.67 739.66,239.69 740.20,239.70 740.75,239.71 741.30,239.72 741.85,239.74 742.40,239.77 742.94,239.82 743.49,239.89 744.04,239.99 744.59,240.11 745.14,240.23 745.68,240.34 746.23,240.44 746.78,240.50 747.33,240.54 747.88,240.54 748.42,240.50 748.97,240.44 749.52,240.36 750.07,240.29 750.61,240.23 751.16,240.19 751.71,240.18 752.26,240.19 752.81,240.23 753.35,240.29 753.90,240.36 754.45,240.42 755.00,240.45 755.55,240.45 756.09,240.43 756.64,240.39 757.19,240.36 757.74,240.35 758.29,240.36 758.83,240.38 759.38,240.41 759.93,240.44 760.48,240.48 761.02,240.53 761.57,240.57 762.12,240.60 762.67,240.62 763.22,240.60 763.76,240.57 764.31,240.51 764.86,240.47 765.41,240.44 765.96,240.44 766.50,240.47 767.05,240.51 767.60,240.54 768.15,240.55 768.70,240.56 769.24,240.56 769.79,240.57 770.34,240.59 770.89,240.64 771.44,240.68 771.98,240.71 772.53,240.71 773.08,240.68 773.63,240.63 774.17,240.56 774.72,240.50 775.27,240.45 775.82,240.42 776.37,240.41 776.91,240.39 777.46,240.37 778.01,240.34 778.56,240.30 779.11,240.24 779.65,240.17 780.20,240.06 780.75,239.91 781.30,239.72 781.85,239.53 782.39,239.35 782.94,239.21 783.49,239.12 784.04,239.09 784.59,239.10 785.13,239.10 785.68,239.08 786.23,239.02 786.78,238.93 787.33,238.81 787.87,238.70 788.42,238.59 788.97,238.51 789.52,238.45 790.06,238.42 790.61,238.39 791.16,238.36 791.71,238.32 792.26,238.25 792.80,238.18 793.35,238.11 793.90,238.06 794.45,238.02 795.00,237.99 795.54,237.96 796.09,237.92 796.64,237.85 797.19,237.77 797.74,237.69 798.28,237.64 798.83,237.63 799.38,237.66 799.93,237.72 800.48,237.79 801.02,237.86 801.57,237.92 802.12,237.96 802.67,237.97 803.21,237.97 803.76,237.96 804.31,237.95 804.86,237.96 805.41,237.99 805.95,238.07 806.50,238.18 807.05,238.30 807.60,238.40 808.15,238.49 808.69,238.56 809.24,238.63 809.79,238.71 810.34,238.81 810.89,238.93 811.43,239.04 811.98,239.12 812.53,239.15 813.08,239.13 813.62,239.07 814.17,238.98 814.72,238.89 815.27,238.82 815.82,238.79 816.36,238.80 816.91,238.84 817.46,238.88 818.01,238.90 818.56,238.88 819.10,238.86 819.65,238.84 820.20,238.87 820.75,238.95 821.30,239.08 821.84,239.25 822.39,239.40 822.94,239.52 823.49,239.57 824.04,239.55 824.58,239.49 825.13,239.42 825.68,239.37 826.23,239.35 826.77,239.38 827.32,239.44 827.87,239.52 828.42,239.59 828.97,239.64 829.51,239.67 830.06,239.70 830.61,239.73 831.16,239.79 831.71,239.86 832.25,239.96 832.80,240.05 833.35,240.12 833.90,240.17 834.45,240.19 834.99,240.20 835.54,240.21 836.09,240.21 836.64,240.22 837.19,240.21 837.73,240.19 838.28,240.16 838.83,240.14 839.38,240.14 839.92,240.17 840.47,240.23 841.02,240.33 841.57,240.44 842.12,240.56 842.66,240.67 843.21,240.76 843.76,240.83 844.31,240.90 844.86,240.96 845.40,241.01 845.95,241.07 846.50,241.11" fill="none" stroke="#dd1020" stroke-width="3.6" stroke-linejoin="round" stroke-linecap="round" clip-path="url(#cE)"/>
<rect x="583.5" y="64.4" width="263.0" height="187.0" fill="none" stroke="#111" stroke-width="2"/>
<line x1="649.25" y1="251.40" x2="649.25" y2="247.40" stroke="#111" stroke-width="1.6" />
<line x1="649.25" y1="64.40" x2="649.25" y2="68.40" stroke="#111" stroke-width="1.6" />
<line x1="715.00" y1="251.40" x2="715.00" y2="247.40" stroke="#111" stroke-width="1.6" />
<line x1="715.00" y1="64.40" x2="715.00" y2="68.40" stroke="#111" stroke-width="1.6" />
<line x1="780.75" y1="251.40" x2="780.75" y2="247.40" stroke="#111" stroke-width="1.6" />
<line x1="780.75" y1="64.40" x2="780.75" y2="68.40" stroke="#111" stroke-width="1.6" />
<line x1="583.50" y1="204.65" x2="587.50" y2="204.65" stroke="#111" stroke-width="1.6" />
<line x1="846.50" y1="204.65" x2="842.50" y2="204.65" stroke="#111" stroke-width="1.6" />
<line x1="583.50" y1="157.90" x2="587.50" y2="157.90" stroke="#111" stroke-width="1.6" />
<line x1="846.50" y1="157.90" x2="842.50" y2="157.90" stroke="#111" stroke-width="1.6" />
<line x1="583.50" y1="111.15" x2="587.50" y2="111.15" stroke="#111" stroke-width="1.6" />
<line x1="846.50" y1="111.15" x2="842.50" y2="111.15" stroke="#111" stroke-width="1.6" />
<line x1="947.95" y1="64.40" x2="947.95" y2="251.40" stroke="#555555" stroke-width="1.5" stroke-dasharray="7.4,7" stroke-dashoffset="4.1"/>
<line x1="1013.40" y1="64.40" x2="1013.40" y2="251.40" stroke="#555555" stroke-width="1.5" stroke-dasharray="7.4,7" stroke-dashoffset="4.1"/>
<line x1="1078.85" y1="64.40" x2="1078.85" y2="251.40" stroke="#555555" stroke-width="1.5" stroke-dasharray="7.4,7" stroke-dashoffset="4.1"/>
<line x1="882.50" y1="204.65" x2="1144.30" y2="204.65" stroke="#555555" stroke-width="1.5" stroke-dasharray="7.5,7" stroke-dashoffset="-0.9"/>
<line x1="882.50" y1="157.90" x2="1144.30" y2="157.90" stroke="#555555" stroke-width="1.5" stroke-dasharray="7.5,7" stroke-dashoffset="-0.9"/>
<line x1="882.50" y1="111.15" x2="1144.30" y2="111.15" stroke="#555555" stroke-width="1.5" stroke-dasharray="7.5,7" stroke-dashoffset="-0.9"/>
<polyline points="882.50,41.01 883.05,47.68 883.59,54.87 884.14,62.73 884.68,71.71 885.23,82.27 885.77,93.93 886.32,106.17 886.86,118.47 887.41,130.24 887.95,140.91 888.50,149.93 889.04,156.83 889.59,161.56 890.14,165.53 890.68,169.09 891.23,172.39 891.77,175.51 892.32,178.52 892.86,181.45 893.41,184.33 893.95,187.22 894.50,190.18 895.04,193.15 895.59,196.09 896.14,198.91 896.68,201.56 897.23,203.94 897.77,205.95 898.32,207.68 898.86,209.28 899.41,210.67 899.95,211.78 900.50,212.61 901.04,213.18 901.59,213.60 902.13,213.98 902.68,214.41 903.23,214.94 903.77,215.61 904.32,216.39 904.86,217.23 905.41,218.05 905.95,218.79 906.50,219.43 907.04,219.95 907.59,220.38 908.13,220.73 908.68,221.04 909.23,221.32 909.77,221.61 910.32,221.91 910.86,222.25 911.41,222.59 911.95,222.91 912.50,223.18 913.04,223.40 913.59,223.59 914.13,223.78 914.68,224.03 915.23,224.36 915.77,224.76 916.32,225.21 916.86,225.65 917.41,226.05 917.95,226.38 918.50,226.63 919.04,226.83 919.59,227.02 920.13,227.23 920.68,227.47 921.22,227.73 921.77,228.02 922.32,228.30 922.86,228.58 923.41,228.85 923.95,229.12 924.50,229.37 925.04,229.59 925.59,229.77 926.13,229.90 926.68,230.00 927.22,230.07 927.77,230.14 928.31,230.19 928.86,230.22 929.41,230.25 929.95,230.28 930.50,230.32 931.04,230.39 931.59,230.47 932.13,230.53 932.68,230.55 933.22,230.51 933.77,230.43 934.31,230.33 934.86,230.22 935.41,230.14 935.95,230.11 936.50,230.13 937.04,230.19 937.59,230.29 938.13,230.40 938.68,230.51 939.22,230.61 939.77,230.70 940.31,230.80 940.86,230.92 941.40,231.05 941.95,231.20 942.50,231.33 943.04,231.43 943.59,231.49 944.13,231.52 944.68,231.53 945.22,231.52 945.77,231.49 946.31,231.46 946.86,231.44 947.40,231.46 947.95,231.54 948.50,231.67 949.04,231.85 949.59,232.05 950.13,232.23 950.68,232.39 951.22,232.52 951.77,232.62 952.31,232.71 952.86,232.82 953.40,232.96 953.95,233.14 954.50,233.35 955.04,233.57 955.59,233.75 956.13,233.87 956.68,233.94 957.22,233.98 957.77,234.03 958.31,234.11 958.86,234.22 959.40,234.32 959.95,234.39 960.49,234.39 961.04,234.34 961.59,234.26 962.13,234.18 962.68,234.12 963.22,234.12 963.77,234.16 964.31,234.22 964.86,234.27 965.40,234.31 965.95,234.33 966.49,234.35 967.04,234.39 967.59,234.47 968.13,234.59 968.68,234.75 969.22,234.92 969.77,235.08 970.31,235.22 970.86,235.35 971.40,235.47 971.95,235.61 972.49,235.78 973.04,235.98 973.58,236.19 974.13,236.39 974.68,236.54 975.22,236.61 975.77,236.59 976.31,236.50 976.86,236.35 977.40,236.19 977.95,236.07 978.49,236.00 979.04,235.99 979.58,236.05 980.13,236.13 980.67,236.22 981.22,236.30 981.77,236.37 982.31,236.43 982.86,236.51 983.40,236.62 983.95,236.77 984.49,236.93 985.04,237.09 985.58,237.23 986.13,237.32 986.67,237.38 987.22,237.41 987.77,237.45 988.31,237.51 988.86,237.58 989.40,237.67 989.95,237.75 990.49,237.83 991.04,237.89 991.58,237.93 992.13,237.95 992.67,237.96 993.22,237.96 993.76,237.97 994.31,237.99 994.86,238.03 995.40,238.07 995.95,238.13 996.49,238.20 997.04,238.28 997.58,238.38 998.13,238.50 998.67,238.63 999.22,238.74 999.76,238.83 1000.31,238.88 1000.86,238.89 1001.40,238.86 1001.95,238.81 1002.49,238.75 1003.04,238.72 1003.58,238.71 1004.13,238.73 1004.67,238.77 1005.22,238.80 1005.76,238.80 1006.31,238.79 1006.86,238.78 1007.40,238.76 1007.95,238.77 1008.49,238.79 1009.04,238.83 1009.58,238.89 1010.13,238.94 1010.67,239.00 1011.22,239.07 1011.76,239.15 1012.31,239.22 1012.85,239.28 1013.40,239.32 1013.95,239.34 1014.49,239.36 1015.04,239.39 1015.58,239.44 1016.13,239.51 1016.67,239.61 1017.22,239.73 1017.76,239.86 1018.31,240.01 1018.85,240.17 1019.40,240.33 1019.94,240.48 1020.49,240.60 1021.04,240.70 1021.58,240.76 1022.13,240.79 1022.67,240.80 1023.22,240.78 1023.76,240.74 1024.31,240.68 1024.85,240.64 1025.40,240.63 1025.94,240.66 1026.49,240.74 1027.04,240.84 1027.58,240.94 1028.13,241.04 1028.67,241.13 1029.22,241.21 1029.76,241.30 1030.31,241.39 1030.85,241.48 1031.40,241.57 1031.94,241.64 1032.49,241.67 1033.03,241.68 1033.58,241.65 1034.13,241.61 1034.67,241.57 1035.22,241.55 1035.76,241.57 1036.31,241.62 1036.85,241.71 1037.40,241.81 1037.94,241.91 1038.49,242.00 1039.03,242.07 1039.58,242.10 1040.13,242.11 1040.67,242.10 1041.22,242.07 1041.76,242.04 1042.31,242.02 1042.85,242.00 1043.40,242.00 1043.94,242.03 1044.49,242.10 1045.03,242.19 1045.58,242.28 1046.12,242.37 1046.67,242.44 1047.22,242.50 1047.76,242.53 1048.31,242.55 1048.85,242.55 1049.40,242.52 1049.94,242.49 1050.49,242.47 1051.03,242.47 1051.58,242.52 1052.12,242.60 1052.67,242.70 1053.22,242.79 1053.76,242.84 1054.31,242.87 1054.85,242.89 1055.40,242.91 1055.94,242.94 1056.49,243.00 1057.03,243.08 1057.58,243.15 1058.12,243.22 1058.67,243.26 1059.21,243.29 1059.76,243.29 1060.31,243.28 1060.85,243.27 1061.40,243.26 1061.94,243.27 1062.49,243.30 1063.03,243.37 1063.58,243.46 1064.12,243.57 1064.67,243.68 1065.21,243.78 1065.76,243.85 1066.31,243.89 1066.85,243.91 1067.40,243.91 1067.94,243.91 1068.49,243.91 1069.03,243.90 1069.58,243.87 1070.12,243.84 1070.67,243.81 1071.21,243.79 1071.76,243.79 1072.30,243.83 1072.85,243.88 1073.40,243.95 1073.94,244.01 1074.49,244.05 1075.03,244.05 1075.58,244.04 1076.12,244.00 1076.67,243.96 1077.21,243.93 1077.76,243.90 1078.30,243.87 1078.85,243.85 1079.40,243.83 1079.94,243.81 1080.49,243.80 1081.03,243.79 1081.58,243.81 1082.12,243.86 1082.67,243.94 1083.21,244.02 1083.76,244.10 1084.30,244.15 1084.85,244.18 1085.39,244.18 1085.94,244.17 1086.49,244.16 1087.03,244.15 1087.58,244.15 1088.12,244.15 1088.67,244.13 1089.21,244.11 1089.76,244.09 1090.30,244.07 1090.85,244.07 1091.39,244.09 1091.94,244.15 1092.49,244.23 1093.03,244.31 1093.58,244.38 1094.12,244.44 1094.67,244.48 1095.21,244.52 1095.76,244.54 1096.30,244.55 1096.85,244.54 1097.39,244.52 1097.94,244.49 1098.48,244.45 1099.03,244.41 1099.58,244.38 1100.12,244.35 1100.67,244.32 1101.21,244.28 1101.76,244.24 1102.30,244.19 1102.85,244.15 1103.39,244.12 1103.94,244.11 1104.48,244.11 1105.03,244.12 1105.58,244.14 1106.12,244.16 1106.67,244.17 1107.21,244.17 1107.76,244.16 1108.30,244.15 1108.85,244.15 1109.39,244.15 1109.94,244.17 1110.48,244.19 1111.03,244.23 1111.58,244.26 1112.12,244.29 1112.67,244.31 1113.21,244.35 1113.76,244.39 1114.30,244.44 1114.85,244.49 1115.39,244.54 1115.94,244.58 1116.48,244.61 1117.03,244.62 1117.57,244.61 1118.12,244.59 1118.67,244.57 1119.21,244.54 1119.76,244.53 1120.30,244.51 1120.85,244.50 1121.39,244.48 1121.94,244.45 1122.48,244.41 1123.03,244.36 1123.57,244.33 1124.12,244.30 1124.66,244.29 1125.21,244.29 1125.76,244.28 1126.30,244.28 1126.85,244.28 1127.39,244.27 1127.94,244.26 1128.48,244.22 1129.03,244.17 1129.57,244.12 1130.12,244.08 1130.66,244.07 1131.21,244.11 1131.76,244.19 1132.30,244.28 1132.85,244.37 1133.39,244.43 1133.94,244.46 1134.48,244.47 1135.03,244.46 1135.57,244.46 1136.12,244.47 1136.66,244.50 1137.21,244.52 1137.75,244.53 1138.30,244.52 1138.85,244.50 1139.39,244.47 1139.94,244.44 1140.48,244.42 1141.03,244.41 1141.57,244.39 1142.12,244.36 1142.66,244.32 1143.21,244.28 1143.75,244.25 1144.30,244.23" fill="none" stroke="#22e022" stroke-width="3.6" stroke-linejoin="round" stroke-linecap="round" clip-path="url(#cN)"/>
<polyline points="882.50,40.77 883.05,48.75 883.59,59.45 884.14,73.90 884.68,95.75 885.23,120.47 885.77,142.69 886.32,157.12 886.86,163.05 887.41,167.61 887.95,171.30 888.50,174.32 889.04,176.91 889.59,179.27 890.14,181.56 890.68,183.97 891.23,186.67 891.77,189.59 892.32,192.54 892.86,195.44 893.41,198.22 893.95,200.79 894.50,203.05 895.04,204.89 895.59,206.48 896.14,207.94 896.68,209.32 897.23,210.67 897.77,211.99 898.32,213.27 898.86,214.49 899.41,215.59 899.95,216.59 900.50,217.47 901.04,218.25 901.59,218.97 902.13,219.64 902.68,220.31 903.23,221.00 903.77,221.73 904.32,222.52 904.86,223.36 905.41,224.22 905.95,225.07 906.50,225.89 907.04,226.68 907.59,227.43 908.13,228.14 908.68,228.81 909.23,229.40 909.77,229.91 910.32,230.34 910.86,230.74 911.41,231.14 911.95,231.56 912.50,232.03 913.04,232.54 913.59,233.08 914.13,233.64 914.68,234.18 915.23,234.67 915.77,235.10 916.32,235.45 916.86,235.74 917.41,235.96 917.95,236.16 918.50,236.35 919.04,236.51 919.59,236.64 920.13,236.72 920.68,236.77 921.22,236.82 921.77,236.87 922.32,236.95 922.86,237.05 923.41,237.19 923.95,237.33 924.50,237.46 925.04,237.58 925.59,237.65 926.13,237.67 926.68,237.65 927.22,237.61 927.77,237.57 928.31,237.56 928.86,237.58 929.41,237.65 929.95,237.75 930.50,237.86 931.04,237.96 931.59,238.06 932.13,238.14 932.68,238.23 933.22,238.32 933.77,238.42 934.31,238.53 934.86,238.63 935.41,238.70 935.95,238.73 936.50,238.72 937.04,238.67 937.59,238.58 938.13,238.48 938.68,238.37 939.22,238.29 939.77,238.23 940.31,238.20 940.86,238.22 941.40,238.30 941.95,238.44 942.50,238.64 943.04,238.88 943.59,239.15 944.13,239.38 944.68,239.54 945.22,239.60 945.77,239.58 946.31,239.49 946.86,239.38 947.40,239.28 947.95,239.22 948.50,239.20 949.04,239.24 949.59,239.33 950.13,239.46 950.68,239.61 951.22,239.77 951.77,239.91 952.31,240.02 952.86,240.11 953.40,240.19 953.95,240.25 954.50,240.33 955.04,240.42 955.59,240.53 956.13,240.63 956.68,240.72 957.22,240.81 957.77,240.89 958.31,240.97 958.86,241.06 959.40,241.16 959.95,241.25 960.49,241.35 961.04,241.43 961.59,241.51 962.13,241.57 962.68,241.63 963.22,241.71 963.77,241.81 964.31,241.94 964.86,242.08 965.40,242.21 965.95,242.31 966.49,242.37 967.04,242.39 967.59,242.36 968.13,242.31 968.68,242.26 969.22,242.22 969.77,242.21 970.31,242.22 970.86,242.25 971.40,242.31 971.95,242.38 972.49,242.46 973.04,242.55 973.58,242.61 974.13,242.66 974.68,242.68 975.22,242.69 975.77,242.69 976.31,242.69 976.86,242.70 977.40,242.73 977.95,242.78 978.49,242.85 979.04,242.93 979.58,243.02 980.13,243.10 980.67,243.17 981.22,243.23 981.77,243.26 982.31,243.28 982.86,243.29 983.40,243.30 983.95,243.31 984.49,243.32 985.04,243.35 985.58,243.38 986.13,243.41 986.67,243.45 987.22,243.50 987.77,243.55 988.31,243.60 988.86,243.64 989.40,243.68 989.95,243.71 990.49,243.75 991.04,243.79 991.58,243.84 992.13,243.89 992.67,243.92 993.22,243.93 993.76,243.92 994.31,243.91 994.86,243.89 995.40,243.89 995.95,243.92 996.49,243.96 997.04,244.02 997.58,244.08 998.13,244.11 998.67,244.12 999.22,244.12 999.76,244.10 1000.31,244.07 1000.86,244.04 1001.40,244.02 1001.95,244.02 1002.49,244.03 1003.04,244.05 1003.58,244.07 1004.13,244.08 1004.67,244.07 1005.22,244.06 1005.76,244.05 1006.31,244.05 1006.86,244.06 1007.40,244.07 1007.95,244.08 1008.49,244.09 1009.04,244.08 1009.58,244.08 1010.13,244.08 1010.67,244.09 1011.22,244.11 1011.76,244.14 1012.31,244.19 1012.85,244.24 1013.40,244.29 1013.95,244.35 1014.49,244.40 1015.04,244.44 1015.58,244.47 1016.13,244.49 1016.67,244.50 1017.22,244.49 1017.76,244.47 1018.31,244.45 1018.85,244.44 1019.40,244.43 1019.94,244.43 1020.49,244.44 1021.04,244.44 1021.58,244.43 1022.13,244.44 1022.67,244.45 1023.22,244.47 1023.76,244.51 1024.31,244.55 1024.85,244.58 1025.40,244.61 1025.94,244.63 1026.49,244.66 1027.04,244.69 1027.58,244.74 1028.13,244.80 1028.67,244.86 1029.22,244.91 1029.76,244.95 1030.31,244.97 1030.85,244.97 1031.40,244.96 1031.94,244.95 1032.49,244.94 1033.03,244.93 1033.58,244.93 1034.13,244.93 1034.67,244.92 1035.22,244.90 1035.76,244.88 1036.31,244.86 1036.85,244.83 1037.40,244.80 1037.94,244.76 1038.49,244.72 1039.03,244.68 1039.58,244.65 1040.13,244.64 1040.67,244.63 1041.22,244.64 1041.76,244.65 1042.31,244.67 1042.85,244.70 1043.40,244.71 1043.94,244.72 1044.49,244.73 1045.03,244.72 1045.58,244.72 1046.12,244.71 1046.67,244.71 1047.22,244.70 1047.76,244.71 1048.31,244.72 1048.85,244.76 1049.40,244.81 1049.94,244.88 1050.49,244.95 1051.03,245.00 1051.58,245.04 1052.12,245.05 1052.67,245.06 1053.22,245.07 1053.76,245.09 1054.31,245.11 1054.85,245.14 1055.40,245.16 1055.94,245.19 1056.49,245.21 1057.03,245.22 1057.58,245.23 1058.12,245.25 1058.67,245.26 1059.21,245.26 1059.76,245.25 1060.31,245.22 1060.85,245.18 1061.40,245.13 1061.94,245.08 1062.49,245.05 1063.03,245.02 1063.58,245.02 1064.12,245.02 1064.67,245.03 1065.21,245.05 1065.76,245.08 1066.31,245.13 1066.85,245.21 1067.40,245.28 1067.94,245.36 1068.49,245.41 1069.03,245.45 1069.58,245.48 1070.12,245.50 1070.67,245.51 1071.21,245.53 1071.76,245.56 1072.30,245.58 1072.85,245.60 1073.40,245.60 1073.94,245.59 1074.49,245.56 1075.03,245.53 1075.58,245.50 1076.12,245.47 1076.67,245.46 1077.21,245.44 1077.76,245.41 1078.30,245.38 1078.85,245.34 1079.40,245.30 1079.94,245.28 1080.49,245.28 1081.03,245.30 1081.58,245.35 1082.12,245.40 1082.67,245.44 1083.21,245.48 1083.76,245.51 1084.30,245.53 1084.85,245.55 1085.39,245.57 1085.94,245.60 1086.49,245.64 1087.03,245.69 1087.58,245.74 1088.12,245.80 1088.67,245.86 1089.21,245.91 1089.76,245.95 1090.30,245.97 1090.85,245.95 1091.39,245.90 1091.94,245.83 1092.49,245.75 1093.03,245.66 1093.58,245.58 1094.12,245.52 1094.67,245.50 1095.21,245.52 1095.76,245.57 1096.30,245.64 1096.85,245.73 1097.39,245.83 1097.94,245.94 1098.48,246.03 1099.03,246.12 1099.58,246.17 1100.12,246.20 1100.67,246.20 1101.21,246.18 1101.76,246.14 1102.30,246.10 1102.85,246.05 1103.39,246.01 1103.94,245.96 1104.48,245.91 1105.03,245.85 1105.58,245.78 1106.12,245.71 1106.67,245.64 1107.21,245.59 1107.76,245.56 1108.30,245.55 1108.85,245.58 1109.39,245.63 1109.94,245.70 1110.48,245.77 1111.03,245.85 1111.58,245.93 1112.12,246.00 1112.67,246.05 1113.21,246.07 1113.76,246.05 1114.30,245.99 1114.85,245.90 1115.39,245.79 1115.94,245.70 1116.48,245.62 1117.03,245.59 1117.57,245.59 1118.12,245.64 1118.67,245.71 1119.21,245.81 1119.76,245.91 1120.30,246.00 1120.85,246.06 1121.39,246.09 1121.94,246.09 1122.48,246.05 1123.03,246.01 1123.57,245.96 1124.12,245.94 1124.66,245.94 1125.21,245.96 1125.76,246.00 1126.30,246.06 1126.85,246.11 1127.39,246.15 1127.94,246.18 1128.48,246.18 1129.03,246.15 1129.57,246.11 1130.12,246.06 1130.66,246.01 1131.21,245.99 1131.76,245.99 1132.30,246.00 1132.85,246.02 1133.39,246.03 1133.94,246.03 1134.48,246.02 1135.03,246.02 1135.57,246.03 1136.12,246.05 1136.66,246.07 1137.21,246.10 1137.75,246.11 1138.30,246.12 1138.85,246.12 1139.39,246.11 1139.94,246.10 1140.48,246.09 1141.03,246.06 1141.57,246.02 1142.12,245.98 1142.66,245.95 1143.21,245.94 1143.75,245.95 1144.30,245.98" fill="none" stroke="#0000c8" stroke-width="3.6" stroke-linejoin="round" stroke-linecap="round" clip-path="url(#cN)"/>
<polyline points="882.50,39.90 883.05,46.59 883.59,63.30 884.14,128.21 884.68,160.17 885.23,167.43 885.77,173.67 886.32,178.94 886.86,183.27 887.41,186.76 887.95,189.52 888.50,191.72 889.04,193.56 889.59,195.21 890.14,196.79 890.68,198.39 891.23,200.05 891.77,201.83 892.32,203.80 892.86,205.83 893.41,207.76 893.95,209.58 894.50,211.30 895.04,212.91 895.59,214.41 896.14,215.82 896.68,217.18 897.23,218.51 897.77,219.84 898.32,221.15 898.86,222.41 899.41,223.58 899.95,224.65 900.50,225.62 901.04,226.51 901.59,227.32 902.13,228.07 902.68,228.76 903.23,229.41 903.77,230.04 904.32,230.67 904.86,231.31 905.41,231.97 905.95,232.64 906.50,233.28 907.04,233.88 907.59,234.43 908.13,234.93 908.68,235.39 909.23,235.81 909.77,236.19 910.32,236.49 910.86,236.73 911.41,236.91 911.95,237.06 912.50,237.19 913.04,237.33 913.59,237.46 914.13,237.60 914.68,237.76 915.23,237.92 915.77,238.11 916.32,238.31 916.86,238.52 917.41,238.72 917.95,238.91 918.50,239.06 919.04,239.19 919.59,239.29 920.13,239.39 920.68,239.49 921.22,239.62 921.77,239.76 922.32,239.91 922.86,240.06 923.41,240.19 923.95,240.30 924.50,240.39 925.04,240.47 925.59,240.56 926.13,240.66 926.68,240.77 927.22,240.87 927.77,240.98 928.31,241.07 928.86,241.14 929.41,241.18 929.95,241.19 930.50,241.18 931.04,241.17 931.59,241.18 932.13,241.22 932.68,241.28 933.22,241.35 933.77,241.40 934.31,241.42 934.86,241.43 935.41,241.42 935.95,241.44 936.50,241.49 937.04,241.58 937.59,241.69 938.13,241.80 938.68,241.88 939.22,241.92 939.77,241.90 940.31,241.84 940.86,241.78 941.40,241.73 941.95,241.71 942.50,241.72 943.04,241.74 943.59,241.77 944.13,241.81 944.68,241.84 945.22,241.87 945.77,241.89 946.31,241.90 946.86,241.90 947.40,241.87 947.95,241.83 948.50,241.80 949.04,241.79 949.59,241.83 950.13,241.92 950.68,242.06 951.22,242.21 951.77,242.35 952.31,242.46 952.86,242.55 953.40,242.60 953.95,242.65 954.50,242.70 955.04,242.78 955.59,242.88 956.13,243.00 956.68,243.12 957.22,243.23 957.77,243.33 958.31,243.43 958.86,243.52 959.40,243.62 959.95,243.72 960.49,243.82 961.04,243.92 961.59,244.02 962.13,244.11 962.68,244.17 963.22,244.22 963.77,244.25 964.31,244.27 964.86,244.28 965.40,244.29 965.95,244.29 966.49,244.31 967.04,244.33 967.59,244.35 968.13,244.38 968.68,244.39 969.22,244.40 969.77,244.40 970.31,244.41 970.86,244.43 971.40,244.46 971.95,244.52 972.49,244.57 973.04,244.62 973.58,244.64 974.13,244.66 974.68,244.65 975.22,244.64 975.77,244.63 976.31,244.63 976.86,244.63 977.40,244.63 977.95,244.63 978.49,244.63 979.04,244.63 979.58,244.64 980.13,244.67 980.67,244.72 981.22,244.77 981.77,244.83 982.31,244.88 982.86,244.92 983.40,244.94 983.95,244.95 984.49,244.95 985.04,244.93 985.58,244.91 986.13,244.88 986.67,244.83 987.22,244.78 987.77,244.74 988.31,244.69 988.86,244.66 989.40,244.62 989.95,244.60 990.49,244.58 991.04,244.58 991.58,244.61 992.13,244.66 992.67,244.73 993.22,244.83 993.76,244.93 994.31,245.02 994.86,245.08 995.40,245.12 995.95,245.13 996.49,245.11 997.04,245.09 997.58,245.06 998.13,245.04 998.67,245.02 999.22,245.02 999.76,245.02 1000.31,245.01 1000.86,245.00 1001.40,245.00 1001.95,245.01 1002.49,245.03 1003.04,245.06 1003.58,245.09 1004.13,245.10 1004.67,245.10 1005.22,245.08 1005.76,245.07 1006.31,245.07 1006.86,245.09 1007.40,245.12 1007.95,245.17 1008.49,245.20 1009.04,245.23 1009.58,245.25 1010.13,245.26 1010.67,245.26 1011.22,245.26 1011.76,245.25 1012.31,245.23 1012.85,245.20 1013.40,245.16 1013.95,245.13 1014.49,245.10 1015.04,245.08 1015.58,245.08 1016.13,245.11 1016.67,245.17 1017.22,245.23 1017.76,245.29 1018.31,245.34 1018.85,245.37 1019.40,245.38 1019.94,245.38 1020.49,245.38 1021.04,245.38 1021.58,245.38 1022.13,245.40 1022.67,245.41 1023.22,245.43 1023.76,245.44 1024.31,245.45 1024.85,245.44 1025.40,245.44 1025.94,245.45 1026.49,245.47 1027.04,245.50 1027.58,245.54 1028.13,245.57 1028.67,245.60 1029.22,245.62 1029.76,245.63 1030.31,245.64 1030.85,245.65 1031.40,245.66 1031.94,245.66 1032.49,245.65 1033.03,245.63 1033.58,245.61 1034.13,245.58 1034.67,245.56 1035.22,245.55 1035.76,245.56 1036.31,245.59 1036.85,245.63 1037.40,245.69 1037.94,245.74 1038.49,245.80 1039.03,245.86 1039.58,245.91 1040.13,245.96 1040.67,246.01 1041.22,246.05 1041.76,246.08 1042.31,246.10 1042.85,246.10 1043.40,246.10 1043.94,246.08 1044.49,246.05 1045.03,246.02 1045.58,245.98 1046.12,245.95 1046.67,245.92 1047.22,245.90 1047.76,245.89 1048.31,245.90 1048.85,245.91 1049.40,245.92 1049.94,245.92 1050.49,245.93 1051.03,245.93 1051.58,245.94 1052.12,245.96 1052.67,246.00 1053.22,246.06 1053.76,246.13 1054.31,246.20 1054.85,246.27 1055.40,246.31 1055.94,246.34 1056.49,246.36 1057.03,246.37 1057.58,246.38 1058.12,246.40 1058.67,246.43 1059.21,246.46 1059.76,246.49 1060.31,246.50 1060.85,246.50 1061.40,246.48 1061.94,246.45 1062.49,246.42 1063.03,246.39 1063.58,246.38 1064.12,246.37 1064.67,246.38 1065.21,246.37 1065.76,246.36 1066.31,246.33 1066.85,246.29 1067.40,246.23 1067.94,246.17 1068.49,246.11 1069.03,246.05 1069.58,246.02 1070.12,246.00 1070.67,246.00 1071.21,246.02 1071.76,246.04 1072.30,246.07 1072.85,246.10 1073.40,246.15 1073.94,246.20 1074.49,246.27 1075.03,246.36 1075.58,246.45 1076.12,246.54 1076.67,246.62 1077.21,246.66 1077.76,246.68 1078.30,246.66 1078.85,246.61 1079.40,246.54 1079.94,246.48 1080.49,246.45 1081.03,246.46 1081.58,246.51 1082.12,246.59 1082.67,246.66 1083.21,246.73 1083.76,246.76 1084.30,246.77 1084.85,246.76 1085.39,246.74 1085.94,246.73 1086.49,246.73 1087.03,246.73 1087.58,246.74 1088.12,246.73 1088.67,246.71 1089.21,246.67 1089.76,246.64 1090.30,246.61 1090.85,246.59 1091.39,246.59 1091.94,246.59 1092.49,246.60 1093.03,246.61 1093.58,246.62 1094.12,246.63 1094.67,246.64 1095.21,246.65 1095.76,246.67 1096.30,246.69 1096.85,246.72 1097.39,246.77 1097.94,246.82 1098.48,246.88 1099.03,246.93 1099.58,246.98 1100.12,247.01 1100.67,247.02 1101.21,247.04 1101.76,247.06 1102.30,247.09 1102.85,247.15 1103.39,247.21 1103.94,247.27 1104.48,247.32 1105.03,247.33 1105.58,247.31 1106.12,247.25 1106.67,247.16 1107.21,247.06 1107.76,246.97 1108.30,246.88 1108.85,246.81 1109.39,246.76 1109.94,246.73 1110.48,246.71 1111.03,246.70 1111.58,246.71 1112.12,246.73 1112.67,246.77 1113.21,246.81 1113.76,246.85 1114.30,246.90 1114.85,246.94 1115.39,246.97 1115.94,246.99 1116.48,247.00 1117.03,246.99 1117.57,246.98 1118.12,246.97 1118.67,246.95 1119.21,246.91 1119.76,246.87 1120.30,246.81 1120.85,246.75 1121.39,246.69 1121.94,246.64 1122.48,246.60 1123.03,246.57 1123.57,246.54 1124.12,246.53 1124.66,246.53 1125.21,246.54 1125.76,246.56 1126.30,246.61 1126.85,246.66 1127.39,246.72 1127.94,246.77 1128.48,246.81 1129.03,246.84 1129.57,246.87 1130.12,246.90 1130.66,246.94 1131.21,246.99 1131.76,247.03 1132.30,247.08 1132.85,247.10 1133.39,247.10 1133.94,247.06 1134.48,247.00 1135.03,246.91 1135.57,246.83 1136.12,246.75 1136.66,246.71 1137.21,246.71 1137.75,246.74 1138.30,246.81 1138.85,246.89 1139.39,246.98 1139.94,247.07 1140.48,247.15 1141.03,247.22 1141.57,247.26 1142.12,247.28 1142.66,247.27 1143.21,247.26 1143.75,247.25 1144.30,247.25" fill="none" stroke="#dd1020" stroke-width="3.6" stroke-linejoin="round" stroke-linecap="round" clip-path="url(#cN)"/>
<rect x="882.5" y="64.4" width="261.79999999999995" height="187.0" fill="none" stroke="#111" stroke-width="2"/>
<line x1="947.95" y1="251.40" x2="947.95" y2="247.40" stroke="#111" stroke-width="1.6" />
<line x1="947.95" y1="64.40" x2="947.95" y2="68.40" stroke="#111" stroke-width="1.6" />
<line x1="1013.40" y1="251.40" x2="1013.40" y2="247.40" stroke="#111" stroke-width="1.6" />
<line x1="1013.40" y1="64.40" x2="1013.40" y2="68.40" stroke="#111" stroke-width="1.6" />
<line x1="1078.85" y1="251.40" x2="1078.85" y2="247.40" stroke="#111" stroke-width="1.6" />
<line x1="1078.85" y1="64.40" x2="1078.85" y2="68.40" stroke="#111" stroke-width="1.6" />
<line x1="882.50" y1="204.65" x2="886.50" y2="204.65" stroke="#111" stroke-width="1.6" />
<line x1="1144.30" y1="204.65" x2="1140.30" y2="204.65" stroke="#111" stroke-width="1.6" />
<line x1="882.50" y1="157.90" x2="886.50" y2="157.90" stroke="#111" stroke-width="1.6" />
<line x1="1144.30" y1="157.90" x2="1140.30" y2="157.90" stroke="#111" stroke-width="1.6" />
<line x1="882.50" y1="111.15" x2="886.50" y2="111.15" stroke="#111" stroke-width="1.6" />
<line x1="1144.30" y1="111.15" x2="1140.30" y2="111.15" stroke="#111" stroke-width="1.6" />
<line x1="649.69" y1="273.50" x2="649.69" y2="460.80" stroke="#555555" stroke-width="1.5" stroke-dasharray="7.4,7" stroke-dashoffset="0.0"/>
<line x1="715.62" y1="273.50" x2="715.62" y2="460.80" stroke="#555555" stroke-width="1.5" stroke-dasharray="7.4,7" stroke-dashoffset="0.0"/>
<line x1="781.56" y1="273.50" x2="781.56" y2="460.80" stroke="#555555" stroke-width="1.5" stroke-dasharray="7.4,7" stroke-dashoffset="0.0"/>
<line x1="583.75" y1="413.98" x2="847.50" y2="413.98" stroke="#555555" stroke-width="1.5" stroke-dasharray="7.5,7" stroke-dashoffset="-0.9"/>
<line x1="583.75" y1="367.15" x2="847.50" y2="367.15" stroke="#555555" stroke-width="1.5" stroke-dasharray="7.5,7" stroke-dashoffset="-0.9"/>
<line x1="583.75" y1="320.33" x2="847.50" y2="320.33" stroke="#555555" stroke-width="1.5" stroke-dasharray="7.5,7" stroke-dashoffset="-0.9"/>
<polyline points="583.75,269.78 584.30,271.17 584.85,272.67 585.40,274.31 585.95,276.10 586.50,278.00 587.05,279.96 587.60,281.94 588.15,283.93 588.70,285.97 589.24,288.10 589.79,290.37 590.34,292.82 590.89,295.43 591.44,298.30 591.99,301.59 592.54,305.15 593.09,308.83 593.64,312.50 594.19,316.00 594.74,319.20 595.29,322.02 595.84,324.72 596.39,327.24 596.94,329.48 597.49,331.39 598.04,332.90 598.59,334.08 599.14,335.07 599.68,335.95 600.23,336.77 600.78,337.55 601.33,338.32 601.88,339.11 602.43,339.99 602.98,341.00 603.53,342.16 604.08,343.50 604.63,345.04 605.18,346.76 605.73,348.58 606.28,350.40 606.83,352.07 607.38,353.55 607.93,354.90 608.48,356.11 609.03,357.23 609.58,358.30 610.12,359.35 610.67,360.41 611.22,361.49 611.77,362.58 612.32,363.69 612.87,364.80 613.42,365.89 613.97,366.95 614.52,367.98 615.07,369.01 615.62,370.08 616.17,371.20 616.72,372.33 617.27,373.41 617.82,374.35 618.37,375.13 618.92,375.77 619.47,376.34 620.02,376.93 620.57,377.61 621.11,378.40 621.66,379.28 622.21,380.18 622.76,381.07 623.31,381.90 623.86,382.69 624.41,383.49 624.96,384.31 625.51,385.18 626.06,386.06 626.61,386.91 627.16,387.69 627.71,388.39 628.26,389.03 628.81,389.65 629.36,390.29 629.91,391.00 630.46,391.81 631.01,392.70 631.55,393.63 632.10,394.54 632.65,395.35 633.20,396.03 633.75,396.56 634.30,396.98 634.85,397.36 635.40,397.76 635.95,398.22 636.50,398.76 637.05,399.39 637.60,400.06 638.15,400.73 638.70,401.36 639.25,401.89 639.80,402.31 640.35,402.62 640.90,402.85 641.45,403.03 641.99,403.21 642.54,403.38 643.09,403.54 643.64,403.70 644.19,403.85 644.74,404.01 645.29,404.21 645.84,404.45 646.39,404.71 646.94,404.97 647.49,405.18 648.04,405.33 648.59,405.43 649.14,405.53 649.69,405.71 650.24,406.01 650.79,406.45 651.34,407.05 651.89,407.74 652.43,408.45 652.98,409.11 653.53,409.70 654.08,410.21 654.63,410.61 655.18,410.92 655.73,411.25 656.28,411.62 656.83,412.05 657.38,412.51 657.93,412.94 658.48,413.28 659.03,413.48 659.58,413.53 660.13,413.44 660.68,413.28 661.23,413.08 661.78,412.88 662.33,412.72 662.88,412.61 663.42,412.58 663.97,412.68 664.52,412.93 665.07,413.33 665.62,413.83 666.17,414.32 666.72,414.74 667.27,415.02 667.82,415.18 668.37,415.28 668.92,415.40 669.47,415.59 670.02,415.86 670.57,416.21 671.12,416.61 671.67,417.02 672.22,417.41 672.77,417.75 673.32,418.01 673.86,418.17 674.41,418.21 674.96,418.19 675.51,418.13 676.06,418.10 676.61,418.15 677.16,418.30 677.71,418.54 678.26,418.83 678.81,419.15 679.36,419.47 679.91,419.76 680.46,420.03 681.01,420.29 681.56,420.53 682.11,420.77 682.66,420.99 683.21,421.18 683.76,421.32 684.30,421.44 684.85,421.53 685.40,421.63 685.95,421.73 686.50,421.81 687.05,421.86 687.60,421.88 688.15,421.87 688.70,421.86 689.25,421.87 689.80,421.92 690.35,422.02 690.90,422.16 691.45,422.37 692.00,422.66 692.55,423.02 693.10,423.47 693.65,423.99 694.20,424.53 694.74,425.06 695.29,425.51 695.84,425.84 696.39,426.03 696.94,426.10 697.49,426.07 698.04,426.00 698.59,425.95 699.14,425.92 699.69,425.93 700.24,425.94 700.79,425.93 701.34,425.89 701.89,425.84 702.44,425.81 702.99,425.86 703.54,425.98 704.09,426.17 704.64,426.36 705.18,426.49 705.73,426.54 706.28,426.51 706.83,426.46 707.38,426.44 707.93,426.51 708.48,426.69 709.03,426.97 709.58,427.30 710.13,427.63 710.68,427.90 711.23,428.09 711.78,428.19 712.33,428.19 712.88,428.11 713.43,427.95 713.98,427.75 714.53,427.55 715.08,427.38 715.62,427.30 716.17,427.32 716.72,427.45 717.27,427.65 717.82,427.88 718.37,428.12 718.92,428.32 719.47,428.49 720.02,428.62 720.57,428.77 721.12,428.95 721.67,429.19 722.22,429.47 722.77,429.75 723.32,429.97 723.87,430.11 724.42,430.17 724.97,430.17 725.52,430.16 726.07,430.20 726.61,430.28 727.16,430.38 727.71,430.47 728.26,430.52 728.81,430.53 729.36,430.53 729.91,430.54 730.46,430.58 731.01,430.67 731.56,430.82 732.11,431.03 732.66,431.32 733.21,431.66 733.76,432.02 734.31,432.34 734.86,432.58 735.41,432.70 735.96,432.72 736.51,432.67 737.05,432.61 737.60,432.55 738.15,432.54 738.70,432.56 739.25,432.62 739.80,432.73 740.35,432.87 740.90,433.07 741.45,433.31 742.00,433.59 742.55,433.88 743.10,434.17 743.65,434.41 744.20,434.59 744.75,434.68 745.30,434.70 745.85,434.67 746.40,434.63 746.95,434.62 747.49,434.69 748.04,434.83 748.59,435.02 749.14,435.21 749.69,435.36 750.24,435.43 750.79,435.43 751.34,435.39 751.89,435.36 752.44,435.36 752.99,435.41 753.54,435.52 754.09,435.70 754.64,435.94 755.19,436.26 755.74,436.63 756.29,437.02 756.84,437.40 757.39,437.71 757.93,437.92 758.48,438.03 759.03,438.03 759.58,437.95 760.13,437.82 760.68,437.68 761.23,437.61 761.78,437.63 762.33,437.77 762.88,438.03 763.43,438.40 763.98,438.87 764.53,439.39 765.08,439.92 765.63,440.42 766.18,440.86 766.73,441.20 767.28,441.45 767.83,441.63 768.38,441.76 768.92,441.89 769.47,442.01 770.02,442.14 770.57,442.26 771.12,442.41 771.67,442.58 772.22,442.76 772.77,442.94 773.32,443.12 773.87,443.30 774.42,443.47 774.97,443.63 775.52,443.77 776.07,443.89 776.62,443.99 777.17,444.07 777.72,444.12 778.27,444.18 778.82,444.27 779.36,444.39 779.91,444.54 780.46,444.72 781.01,444.87 781.56,444.98 782.11,445.01 782.66,444.97 783.21,444.86 783.76,444.71 784.31,444.56 784.86,444.40 785.41,444.25 785.96,444.08 786.51,443.88 787.06,443.63 787.61,443.36 788.16,443.09 788.71,442.87 789.26,442.72 789.80,442.66 790.35,442.68 790.90,442.75 791.45,442.84 792.00,442.93 792.55,443.01 793.10,443.07 793.65,443.12 794.20,443.19 794.75,443.27 795.30,443.36 795.85,443.46 796.40,443.56 796.95,443.64 797.50,443.69 798.05,443.72 798.60,443.72 799.15,443.72 799.70,443.72 800.24,443.73 800.79,443.76 801.34,443.81 801.89,443.88 802.44,443.97 802.99,444.06 803.54,444.15 804.09,444.21 804.64,444.25 805.19,444.31 805.74,444.40 806.29,444.55 806.84,444.77 807.39,445.03 807.94,445.30 808.49,445.53 809.04,445.69 809.59,445.77 810.14,445.78 810.68,445.71 811.23,445.61 811.78,445.48 812.33,445.36 812.88,445.28 813.43,445.25 813.98,445.28 814.53,445.37 815.08,445.51 815.63,445.65 816.18,445.80 816.73,445.91 817.28,445.98 817.83,446.01 818.38,446.00 818.93,445.94 819.48,445.85 820.03,445.74 820.58,445.64 821.12,445.56 821.67,445.54 822.22,445.57 822.77,445.67 823.32,445.82 823.87,446.01 824.42,446.21 824.97,446.40 825.52,446.58 826.07,446.70 826.62,446.77 827.17,446.76 827.72,446.68 828.27,446.54 828.82,446.38 829.37,446.24 829.92,446.15 830.47,446.12 831.02,446.14 831.57,446.22 832.11,446.31 832.66,446.43 833.21,446.55 833.76,446.68 834.31,446.81 834.86,446.94 835.41,447.04 835.96,447.11 836.51,447.13 837.06,447.12 837.61,447.10 838.16,447.07 838.71,447.07 839.26,447.10 839.81,447.16 840.36,447.23 840.91,447.32 841.46,447.40 842.01,447.45 842.55,447.48 843.10,447.47 843.65,447.45 844.20,447.41 844.75,447.36 845.30,447.32 845.85,447.29 846.40,447.27 846.95,447.28 847.50,447.31" fill="none" stroke="#22e022" stroke-width="3.6" stroke-linejoin="round" stroke-linecap="round" clip-path="url(#cU)"/>
<polyline points="583.75,304.63 584.30,306.50 584.85,308.47 585.40,310.62 585.95,312.91 586.50,315.29 587.05,317.70 587.60,320.10 588.15,322.43 588.70,324.76 589.24,327.08 589.79,329.36 590.34,331.55 590.89,333.64 591.44,335.63 591.99,337.55 592.54,339.43 593.09,341.29 593.64,343.10 594.19,344.80 594.74,346.39 595.29,347.85 595.84,349.17 596.39,350.39 596.94,351.57 597.49,352.77 598.04,353.98 598.59,355.17 599.14,356.29 599.68,357.26 600.23,358.06 600.78,358.72 601.33,359.28 601.88,359.81 602.43,360.41 602.98,361.14 603.53,361.99 604.08,362.95 604.63,364.01 605.18,365.16 605.73,366.39 606.28,367.66 606.83,368.91 607.38,370.12 607.93,371.36 608.48,372.66 609.03,374.12 609.58,375.81 610.12,377.86 610.67,380.87 611.22,384.47 611.77,388.06 612.32,391.04 612.87,392.88 613.42,393.60 613.97,394.13 614.52,394.54 615.07,394.86 615.62,395.12 616.17,395.34 616.72,395.53 617.27,395.69 617.82,395.82 618.37,395.90 618.92,395.97 619.47,396.06 620.02,396.24 620.57,396.57 621.11,397.07 621.66,397.72 622.21,398.49 622.76,399.30 623.31,400.09 623.86,400.84 624.41,401.55 624.96,402.20 625.51,402.79 626.06,403.33 626.61,403.84 627.16,404.36 627.71,404.93 628.26,405.58 628.81,406.30 629.36,407.05 629.91,407.79 630.46,408.50 631.01,409.14 631.55,409.73 632.10,410.24 632.65,410.71 633.20,411.12 633.75,411.51 634.30,411.88 634.85,412.28 635.40,412.68 635.95,413.10 636.50,413.52 637.05,413.93 637.60,414.30 638.15,414.65 638.70,414.98 639.25,415.28 639.80,415.57 640.35,415.84 640.90,416.07 641.45,416.25 641.99,416.38 642.54,416.47 643.09,416.56 643.64,416.69 644.19,416.88 644.74,417.11 645.29,417.39 645.84,417.71 646.39,418.06 646.94,418.46 647.49,418.89 648.04,419.34 648.59,419.80 649.14,420.25 649.69,420.69 650.24,421.15 650.79,421.60 651.34,422.04 651.89,422.42 652.43,422.73 652.98,422.92 653.53,423.03 654.08,423.07 654.63,423.12 655.18,423.21 655.73,423.39 656.28,423.67 656.83,424.03 657.38,424.44 657.93,424.85 658.48,425.21 659.03,425.51 659.58,425.76 660.13,425.99 660.68,426.24 661.23,426.50 661.78,426.77 662.33,427.03 662.88,427.25 663.42,427.46 663.97,427.67 664.52,427.91 665.07,428.18 665.62,428.47 666.17,428.76 666.72,429.05 667.27,429.36 667.82,429.72 668.37,430.17 668.92,430.69 669.47,431.25 670.02,431.76 670.57,432.18 671.12,432.46 671.67,432.61 672.22,432.69 672.77,432.76 673.32,432.85 673.86,432.98 674.41,433.13 674.96,433.25 675.51,433.35 676.06,433.40 676.61,433.45 677.16,433.53 677.71,433.64 678.26,433.81 678.81,434.02 679.36,434.25 679.91,434.47 680.46,434.65 681.01,434.80 681.56,434.94 682.11,435.07 682.66,435.22 683.21,435.37 683.76,435.52 684.30,435.66 684.85,435.78 685.40,435.90 685.95,436.04 686.50,436.21 687.05,436.41 687.60,436.63 688.15,436.84 688.70,437.01 689.25,437.11 689.80,437.15 690.35,437.15 690.90,437.12 691.45,437.12 692.00,437.18 692.55,437.30 693.10,437.47 693.65,437.66 694.20,437.84 694.74,437.98 695.29,438.10 695.84,438.19 696.39,438.28 696.94,438.39 697.49,438.53 698.04,438.71 698.59,438.93 699.14,439.14 699.69,439.32 700.24,439.41 700.79,439.40 701.34,439.28 701.89,439.07 702.44,438.85 702.99,438.66 703.54,438.55 704.09,438.55 704.64,438.62 705.18,438.73 705.73,438.84 706.28,438.89 706.83,438.87 707.38,438.76 707.93,438.60 708.48,438.45 709.03,438.36 709.58,438.38 710.13,438.51 710.68,438.72 711.23,438.94 711.78,439.11 712.33,439.20 712.88,439.19 713.43,439.12 713.98,439.03 714.53,438.95 715.08,438.91 715.62,438.90 716.17,438.93 716.72,438.98 717.27,439.06 717.82,439.16 718.37,439.28 718.92,439.42 719.47,439.61 720.02,439.85 720.57,440.15 721.12,440.48 721.67,440.82 722.22,441.13 722.77,441.37 723.32,441.55 723.87,441.70 724.42,441.86 724.97,442.08 725.52,442.36 726.07,442.67 726.61,443.00 727.16,443.29 727.71,443.55 728.26,443.78 728.81,443.99 729.36,444.19 729.91,444.37 730.46,444.53 731.01,444.67 731.56,444.77 732.11,444.83 732.66,444.87 733.21,444.87 733.76,444.83 734.31,444.77 734.86,444.68 735.41,444.58 735.96,444.49 736.51,444.42 737.05,444.38 737.60,444.37 738.15,444.40 738.70,444.48 739.25,444.60 739.80,444.77 740.35,444.96 740.90,445.15 741.45,445.32 742.00,445.45 742.55,445.55 743.10,445.62 743.65,445.67 744.20,445.71 744.75,445.75 745.30,445.80 745.85,445.84 746.40,445.90 746.95,445.97 747.49,446.09 748.04,446.24 748.59,446.41 749.14,446.59 749.69,446.73 750.24,446.84 750.79,446.90 751.34,446.94 751.89,446.98 752.44,447.03 752.99,447.11 753.54,447.20 754.09,447.29 754.64,447.36 755.19,447.41 755.74,447.43 756.29,447.42 756.84,447.40 757.39,447.40 757.93,447.41 758.48,447.47 759.03,447.56 759.58,447.70 760.13,447.86 760.68,448.02 761.23,448.15 761.78,448.22 762.33,448.21 762.88,448.13 763.43,448.01 763.98,447.90 764.53,447.84 765.08,447.85 765.63,447.92 766.18,448.05 766.73,448.21 767.28,448.39 767.83,448.57 768.38,448.75 768.92,448.93 769.47,449.07 770.02,449.18 770.57,449.27 771.12,449.32 771.67,449.36 772.22,449.40 772.77,449.44 773.32,449.49 773.87,449.56 774.42,449.65 774.97,449.75 775.52,449.86 776.07,449.96 776.62,450.04 777.17,450.09 777.72,450.13 778.27,450.15 778.82,450.17 779.36,450.18 779.91,450.18 780.46,450.18 781.01,450.18 781.56,450.19 782.11,450.22 782.66,450.27 783.21,450.33 783.76,450.41 784.31,450.51 784.86,450.60 785.41,450.69 785.96,450.77 786.51,450.83 787.06,450.87 787.61,450.88 788.16,450.86 788.71,450.83 789.26,450.80 789.80,450.78 790.35,450.77 790.90,450.78 791.45,450.81 792.00,450.85 792.55,450.89 793.10,450.93 793.65,450.96 794.20,450.99 794.75,451.00 795.30,451.01 795.85,451.01 796.40,451.01 796.95,451.02 797.50,451.05 798.05,451.08 798.60,451.13 799.15,451.17 799.70,451.20 800.24,451.23 800.79,451.25 801.34,451.27 801.89,451.30 802.44,451.34 802.99,451.38 803.54,451.42 804.09,451.45 804.64,451.46 805.19,451.45 805.74,451.43 806.29,451.42 806.84,451.43 807.39,451.46 807.94,451.50 808.49,451.55 809.04,451.59 809.59,451.64 810.14,451.67 810.68,451.70 811.23,451.74 811.78,451.78 812.33,451.83 812.88,451.89 813.43,451.96 813.98,452.03 814.53,452.09 815.08,452.14 815.63,452.16 816.18,452.15 816.73,452.11 817.28,452.05 817.83,451.97 818.38,451.88 818.93,451.81 819.48,451.77 820.03,451.75 820.58,451.77 821.12,451.81 821.67,451.85 822.22,451.89 822.77,451.93 823.32,451.95 823.87,451.98 824.42,452.00 824.97,452.03 825.52,452.05 826.07,452.07 826.62,452.09 827.17,452.12 827.72,452.16 828.27,452.20 828.82,452.24 829.37,452.28 829.92,452.30 830.47,452.31 831.02,452.30 831.57,452.29 832.11,452.28 832.66,452.28 833.21,452.28 833.76,452.31 834.31,452.33 834.86,452.36 835.41,452.37 835.96,452.37 836.51,452.36 837.06,452.34 837.61,452.32 838.16,452.31 838.71,452.31 839.26,452.32 839.81,452.33 840.36,452.35 840.91,452.37 841.46,452.39 842.01,452.39 842.55,452.37 843.10,452.35 843.65,452.31 844.20,452.27 844.75,452.25 845.30,452.24 845.85,452.25 846.40,452.26 846.95,452.28 847.50,452.31" fill="none" stroke="#0000c8" stroke-width="3.6" stroke-linejoin="round" stroke-linecap="round" clip-path="url(#cU)"/>
<polyline points="583.75,316.25 584.30,318.24 584.85,320.56 585.40,323.05 585.95,325.82 586.50,329.32 587.05,335.23 587.60,342.92 588.15,350.68 588.70,356.80 589.24,359.87 589.79,361.67 590.34,362.97 590.89,363.91 591.44,364.63 591.99,365.66 592.54,368.14 593.09,372.54 593.64,377.23 594.19,380.56 594.74,381.98 595.29,383.04 595.84,383.86 596.39,384.49 596.94,384.98 597.49,385.39 598.04,385.78 598.59,386.24 599.14,386.80 599.68,387.51 600.23,388.37 600.78,389.39 601.33,390.49 601.88,391.64 602.43,392.83 602.98,394.06 603.53,395.32 604.08,396.60 604.63,397.87 605.18,399.07 605.73,400.17 606.28,401.23 606.83,402.24 607.38,403.19 607.93,404.08 608.48,404.93 609.03,405.75 609.58,406.53 610.12,407.25 610.67,407.89 611.22,408.42 611.77,408.84 612.32,409.16 612.87,409.39 613.42,409.61 613.97,409.90 614.52,410.33 615.07,410.93 615.62,411.68 616.17,412.49 616.72,413.27 617.27,413.94 617.82,414.44 618.37,414.76 618.92,414.93 619.47,414.99 620.02,414.98 620.57,414.97 621.11,414.98 621.66,415.07 622.21,415.24 622.76,415.48 623.31,415.76 623.86,416.05 624.41,416.32 624.96,416.56 625.51,416.81 626.06,417.10 626.61,417.48 627.16,417.94 627.71,418.42 628.26,418.87 628.81,419.23 629.36,419.47 629.91,419.64 630.46,419.76 631.01,419.91 631.55,420.14 632.10,420.47 632.65,420.93 633.20,421.50 633.75,422.16 634.30,422.84 634.85,423.49 635.40,424.03 635.95,424.44 636.50,424.73 637.05,424.93 637.60,425.10 638.15,425.31 638.70,425.56 639.25,425.85 639.80,426.13 640.35,426.34 640.90,426.46 641.45,426.47 641.99,426.41 642.54,426.30 643.09,426.19 643.64,426.11 644.19,426.11 644.74,426.21 645.29,426.43 645.84,426.78 646.39,427.22 646.94,427.71 647.49,428.18 648.04,428.58 648.59,428.88 649.14,429.09 649.69,429.25 650.24,429.42 650.79,429.67 651.34,430.01 651.89,430.42 652.43,430.84 652.98,431.21 653.53,431.49 654.08,431.66 654.63,431.76 655.18,431.82 655.73,431.91 656.28,432.10 656.83,432.43 657.38,432.90 657.93,433.48 658.48,434.07 659.03,434.61 659.58,435.03 660.13,435.33 660.68,435.51 661.23,435.60 661.78,435.64 662.33,435.66 662.88,435.69 663.42,435.74 663.97,435.85 664.52,436.02 665.07,436.24 665.62,436.52 666.17,436.84 666.72,437.16 667.27,437.47 667.82,437.76 668.37,438.05 668.92,438.34 669.47,438.64 670.02,438.94 670.57,439.22 671.12,439.46 671.67,439.65 672.22,439.81 672.77,439.93 673.32,440.03 673.86,440.11 674.41,440.19 674.96,440.29 675.51,440.42 676.06,440.55 676.61,440.66 677.16,440.73 677.71,440.72 678.26,440.61 678.81,440.38 679.36,440.08 679.91,439.74 680.46,439.41 681.01,439.14 681.56,438.98 682.11,438.93 682.66,438.98 683.21,439.11 683.76,439.28 684.30,439.48 684.85,439.68 685.40,439.87 685.95,440.04 686.50,440.17 687.05,440.26 687.60,440.31 688.15,440.32 688.70,440.35 689.25,440.40 689.80,440.49 690.35,440.62 690.90,440.79 691.45,440.98 692.00,441.17 692.55,441.35 693.10,441.54 693.65,441.72 694.20,441.90 694.74,442.09 695.29,442.28 695.84,442.50 696.39,442.74 696.94,442.97 697.49,443.19 698.04,443.36 698.59,443.48 699.14,443.54 699.69,443.58 700.24,443.62 700.79,443.68 701.34,443.72 701.89,443.74 702.44,443.71 702.99,443.62 703.54,443.50 704.09,443.35 704.64,443.21 705.18,443.08 705.73,442.98 706.28,442.89 706.83,442.82 707.38,442.74 707.93,442.65 708.48,442.56 709.03,442.45 709.58,442.33 710.13,442.19 710.68,442.06 711.23,441.94 711.78,441.86 712.33,441.84 712.88,441.88 713.43,441.98 713.98,442.11 714.53,442.26 715.08,442.39 715.62,442.50 716.17,442.55 716.72,442.57 717.27,442.55 717.82,442.52 718.37,442.50 718.92,442.53 719.47,442.63 720.02,442.81 720.57,443.06 721.12,443.35 721.67,443.63 722.22,443.86 722.77,444.04 723.32,444.17 723.87,444.26 724.42,444.36 724.97,444.49 725.52,444.67 726.07,444.90 726.61,445.17 727.16,445.45 727.71,445.71 728.26,445.92 728.81,446.07 729.36,446.18 729.91,446.26 730.46,446.33 731.01,446.40 731.56,446.49 732.11,446.58 732.66,446.68 733.21,446.78 733.76,446.87 734.31,446.95 734.86,447.01 735.41,447.06 735.96,447.11 736.51,447.17 737.05,447.23 737.60,447.28 738.15,447.31 738.70,447.32 739.25,447.34 739.80,447.37 740.35,447.45 740.90,447.57 741.45,447.72 742.00,447.89 742.55,448.05 743.10,448.19 743.65,448.31 744.20,448.40 744.75,448.47 745.30,448.52 745.85,448.55 746.40,448.56 746.95,448.55 747.49,448.53 748.04,448.51 748.59,448.50 749.14,448.51 749.69,448.52 750.24,448.53 750.79,448.54 751.34,448.53 751.89,448.52 752.44,448.51 752.99,448.53 753.54,448.57 754.09,448.63 754.64,448.70 755.19,448.78 755.74,448.86 756.29,448.91 756.84,448.94 757.39,448.95 757.93,448.95 758.48,448.96 759.03,449.00 759.58,449.07 760.13,449.18 760.68,449.30 761.23,449.41 761.78,449.51 762.33,449.57 762.88,449.60 763.43,449.61 763.98,449.60 764.53,449.59 765.08,449.58 765.63,449.57 766.18,449.56 766.73,449.57 767.28,449.58 767.83,449.61 768.38,449.65 768.92,449.70 769.47,449.77 770.02,449.84 770.57,449.91 771.12,449.98 771.67,450.04 772.22,450.08 772.77,450.12 773.32,450.15 773.87,450.18 774.42,450.20 774.97,450.23 775.52,450.27 776.07,450.31 776.62,450.37 777.17,450.41 777.72,450.45 778.27,450.46 778.82,450.44 779.36,450.39 779.91,450.32 780.46,450.25 781.01,450.17 781.56,450.12 782.11,450.08 782.66,450.07 783.21,450.08 783.76,450.10 784.31,450.14 784.86,450.17 785.41,450.22 785.96,450.29 786.51,450.38 787.06,450.49 787.61,450.63 788.16,450.76 788.71,450.88 789.26,450.95 789.80,450.98 790.35,450.98 790.90,450.94 791.45,450.88 792.00,450.82 792.55,450.77 793.10,450.73 793.65,450.71 794.20,450.72 794.75,450.75 795.30,450.79 795.85,450.84 796.40,450.89 796.95,450.92 797.50,450.95 798.05,450.99 798.60,451.03 799.15,451.09 799.70,451.15 800.24,451.20 800.79,451.24 801.34,451.25 801.89,451.24 802.44,451.23 802.99,451.23 803.54,451.25 804.09,451.32 804.64,451.41 805.19,451.51 805.74,451.60 806.29,451.65 806.84,451.67 807.39,451.65 807.94,451.59 808.49,451.53 809.04,451.48 809.59,451.45 810.14,451.44 810.68,451.46 811.23,451.47 811.78,451.48 812.33,451.48 812.88,451.46 813.43,451.44 813.98,451.43 814.53,451.44 815.08,451.49 815.63,451.57 816.18,451.67 816.73,451.79 817.28,451.91 817.83,452.02 818.38,452.11 818.93,452.18 819.48,452.24 820.03,452.27 820.58,452.29 821.12,452.30 821.67,452.29 822.22,452.27 822.77,452.25 823.32,452.22 823.87,452.20 824.42,452.20 824.97,452.22 825.52,452.26 826.07,452.30 826.62,452.34 827.17,452.37 827.72,452.38 828.27,452.39 828.82,452.40 829.37,452.41 829.92,452.42 830.47,452.42 831.02,452.44 831.57,452.45 832.11,452.48 832.66,452.53 833.21,452.57 833.76,452.62 834.31,452.66 834.86,452.69 835.41,452.71 835.96,452.73 836.51,452.75 837.06,452.77 837.61,452.79 838.16,452.81 838.71,452.83 839.26,452.85 839.81,452.85 840.36,452.84 840.91,452.81 841.46,452.77 842.01,452.73 842.55,452.71 843.10,452.70 843.65,452.70 844.20,452.70 844.75,452.71 845.30,452.70 845.85,452.70 846.40,452.70 846.95,452.72 847.50,452.76" fill="none" stroke="#dd1020" stroke-width="3.6" stroke-linejoin="round" stroke-linecap="round" clip-path="url(#cU)"/>
<rect x="583.75" y="273.5" width="263.75" height="187.3" fill="none" stroke="#111" stroke-width="2"/>
<line x1="649.69" y1="460.80" x2="649.69" y2="456.80" stroke="#111" stroke-width="1.6" />
<line x1="649.69" y1="273.50" x2="649.69" y2="277.50" stroke="#111" stroke-width="1.6" />
<line x1="715.62" y1="460.80" x2="715.62" y2="456.80" stroke="#111" stroke-width="1.6" />
<line x1="715.62" y1="273.50" x2="715.62" y2="277.50" stroke="#111" stroke-width="1.6" />
<line x1="781.56" y1="460.80" x2="781.56" y2="456.80" stroke="#111" stroke-width="1.6" />
<line x1="781.56" y1="273.50" x2="781.56" y2="277.50" stroke="#111" stroke-width="1.6" />
<line x1="583.75" y1="413.98" x2="587.75" y2="413.98" stroke="#111" stroke-width="1.6" />
<line x1="847.50" y1="413.98" x2="843.50" y2="413.98" stroke="#111" stroke-width="1.6" />
<line x1="583.75" y1="367.15" x2="587.75" y2="367.15" stroke="#111" stroke-width="1.6" />
<line x1="847.50" y1="367.15" x2="843.50" y2="367.15" stroke="#111" stroke-width="1.6" />
<line x1="583.75" y1="320.33" x2="587.75" y2="320.33" stroke="#111" stroke-width="1.6" />
<line x1="847.50" y1="320.33" x2="843.50" y2="320.33" stroke="#111" stroke-width="1.6" />
<line x1="947.93" y1="273.50" x2="947.93" y2="460.60" stroke="#555555" stroke-width="1.5" stroke-dasharray="7.4,7" stroke-dashoffset="0.0"/>
<line x1="1013.75" y1="273.50" x2="1013.75" y2="460.60" stroke="#555555" stroke-width="1.5" stroke-dasharray="7.4,7" stroke-dashoffset="0.0"/>
<line x1="1079.58" y1="273.50" x2="1079.58" y2="460.60" stroke="#555555" stroke-width="1.5" stroke-dasharray="7.4,7" stroke-dashoffset="0.0"/>
<line x1="882.10" y1="413.83" x2="1145.40" y2="413.83" stroke="#555555" stroke-width="1.5" stroke-dasharray="7.5,7" stroke-dashoffset="-0.9"/>
<line x1="882.10" y1="367.05" x2="1145.40" y2="367.05" stroke="#555555" stroke-width="1.5" stroke-dasharray="7.5,7" stroke-dashoffset="-0.9"/>
<line x1="882.10" y1="320.27" x2="1145.40" y2="320.27" stroke="#555555" stroke-width="1.5" stroke-dasharray="7.5,7" stroke-dashoffset="-0.9"/>
<polyline points="882.10,132.67 882.65,137.19 883.20,141.72 883.75,146.31 884.29,150.94 884.84,155.59 885.39,160.23 885.94,164.82 886.49,169.36 887.04,173.84 887.59,178.26 888.13,182.63 888.68,186.97 889.23,191.29 889.78,195.58 890.33,199.83 890.88,204.03 891.43,208.14 891.97,212.15 892.52,216.06 893.07,219.87 893.62,223.60 894.17,227.25 894.72,230.85 895.26,234.41 895.81,237.95 896.36,241.49 896.91,245.05 897.46,248.64 898.01,252.26 898.56,255.86 899.10,259.39 899.65,262.82 900.20,266.14 900.75,269.38 901.30,272.59 901.85,275.80 902.40,279.02 902.94,282.23 903.49,285.40 904.04,288.46 904.59,291.37 905.14,294.12 905.69,296.69 906.24,299.13 906.78,301.47 907.33,303.80 907.88,306.20 908.43,308.69 908.98,311.23 909.53,313.78 910.08,316.31 910.62,318.83 911.17,321.38 911.72,324.10 912.27,326.95 912.82,329.87 913.37,332.78 913.92,335.57 914.46,338.10 915.01,340.28 915.56,342.27 916.11,344.15 916.66,345.94 917.21,347.66 917.76,349.32 918.30,350.91 918.85,352.43 919.40,353.85 919.95,355.17 920.50,356.39 921.05,357.51 921.60,358.56 922.14,359.59 922.69,360.64 923.24,361.74 923.79,362.89 924.34,364.06 924.89,365.23 925.43,366.31 925.98,367.27 926.53,368.08 927.08,368.79 927.63,369.48 928.18,370.20 928.73,370.97 929.27,371.81 929.82,372.69 930.37,373.60 930.92,374.51 931.47,375.42 932.02,376.30 932.57,377.14 933.11,377.90 933.66,378.55 934.21,379.07 934.76,379.50 935.31,379.84 935.86,380.10 936.41,380.31 936.95,380.49 937.50,380.67 938.05,380.88 938.60,381.12 939.15,381.41 939.70,381.76 940.25,382.13 940.79,382.52 941.34,382.88 941.89,383.20 942.44,383.48 942.99,383.76 943.54,384.04 944.09,384.34 944.63,384.67 945.18,385.00 945.73,385.36 946.28,385.75 946.83,386.18 947.38,386.65 947.93,387.16 948.47,387.69 949.02,388.23 949.57,388.75 950.12,389.25 950.67,389.71 951.22,390.12 951.76,390.50 952.31,390.85 952.86,391.17 953.41,391.46 953.96,391.71 954.51,391.93 955.06,392.13 955.60,392.33 956.15,392.53 956.70,392.73 957.25,392.91 957.80,393.03 958.35,393.09 958.90,393.09 959.44,393.07 959.99,393.08 960.54,393.19 961.09,393.39 961.64,393.69 962.19,394.04 962.74,394.43 963.28,394.84 963.83,395.28 964.38,395.79 964.93,396.37 965.48,397.02 966.03,397.70 966.58,398.37 967.12,398.98 967.67,399.50 968.22,399.93 968.77,400.27 969.32,400.55 969.87,400.78 970.42,400.97 970.96,401.13 971.51,401.29 972.06,401.51 972.61,401.80 973.16,402.18 973.71,402.61 974.25,403.07 974.80,403.53 975.35,403.98 975.90,404.39 976.45,404.75 977.00,405.06 977.55,405.28 978.09,405.41 978.64,405.43 979.19,405.36 979.74,405.24 980.29,405.03 980.84,404.73 981.39,404.38 981.93,404.00 982.48,403.60 983.03,403.23 983.58,402.92 984.13,402.74 984.68,402.75 985.23,402.89 985.77,403.11 986.32,403.38 986.87,403.66 987.42,403.93 987.97,404.16 988.52,404.35 989.07,404.52 989.61,404.65 990.16,404.77 990.71,404.91 991.26,405.08 991.81,405.31 992.36,405.62 992.91,405.99 993.45,406.40 994.00,406.81 994.55,407.20 995.10,407.53 995.65,407.77 996.20,407.91 996.75,407.95 997.29,407.92 997.84,407.82 998.39,407.71 998.94,407.60 999.49,407.56 1000.04,407.60 1000.59,407.76 1001.13,408.05 1001.68,408.48 1002.23,408.99 1002.78,409.54 1003.33,410.06 1003.88,410.48 1004.42,410.76 1004.97,410.90 1005.52,410.95 1006.07,410.95 1006.62,410.97 1007.17,411.04 1007.72,411.17 1008.26,411.32 1008.81,411.49 1009.36,411.64 1009.91,411.78 1010.46,411.95 1011.01,412.16 1011.56,412.42 1012.10,412.69 1012.65,412.92 1013.20,413.05 1013.75,413.06 1014.30,412.96 1014.85,412.81 1015.40,412.71 1015.94,412.76 1016.49,413.00 1017.04,413.45 1017.59,414.07 1018.14,414.77 1018.69,415.45 1019.24,416.04 1019.78,416.51 1020.33,416.86 1020.88,417.12 1021.43,417.31 1021.98,417.46 1022.53,417.58 1023.08,417.69 1023.62,417.81 1024.17,417.94 1024.72,418.12 1025.27,418.35 1025.82,418.62 1026.37,418.88 1026.91,419.10 1027.46,419.26 1028.01,419.35 1028.56,419.40 1029.11,419.44 1029.66,419.50 1030.21,419.59 1030.75,419.70 1031.30,419.79 1031.85,419.83 1032.40,419.80 1032.95,419.72 1033.50,419.66 1034.05,419.65 1034.59,419.74 1035.14,419.91 1035.69,420.11 1036.24,420.28 1036.79,420.38 1037.34,420.40 1037.89,420.34 1038.43,420.22 1038.98,420.06 1039.53,419.92 1040.08,419.85 1040.63,419.90 1041.18,420.08 1041.73,420.39 1042.27,420.79 1042.82,421.22 1043.37,421.65 1043.92,422.04 1044.47,422.39 1045.02,422.68 1045.57,422.89 1046.11,423.01 1046.66,423.01 1047.21,422.91 1047.76,422.75 1048.31,422.56 1048.86,422.40 1049.41,422.29 1049.95,422.24 1050.50,422.23 1051.05,422.25 1051.60,422.29 1052.15,422.33 1052.70,422.36 1053.25,422.39 1053.79,422.42 1054.34,422.48 1054.89,422.58 1055.44,422.73 1055.99,422.92 1056.54,423.16 1057.08,423.45 1057.63,423.79 1058.18,424.16 1058.73,424.53 1059.28,424.86 1059.83,425.11 1060.38,425.27 1060.92,425.34 1061.47,425.37 1062.02,425.41 1062.57,425.55 1063.12,425.82 1063.67,426.28 1064.22,426.90 1064.76,427.62 1065.31,428.35 1065.86,429.00 1066.41,429.54 1066.96,429.94 1067.51,430.24 1068.06,430.44 1068.60,430.57 1069.15,430.61 1069.70,430.56 1070.25,430.41 1070.80,430.21 1071.35,429.99 1071.90,429.77 1072.44,429.56 1072.99,429.37 1073.54,429.21 1074.09,429.09 1074.64,429.04 1075.19,429.08 1075.74,429.20 1076.28,429.40 1076.83,429.66 1077.38,429.95 1077.93,430.20 1078.48,430.37 1079.03,430.40 1079.58,430.28 1080.12,430.03 1080.67,429.74 1081.22,429.47 1081.77,429.29 1082.32,429.24 1082.87,429.32 1083.41,429.45 1083.96,429.55 1084.51,429.54 1085.06,429.42 1085.61,429.21 1086.16,429.01 1086.71,428.89 1087.25,428.89 1087.80,428.99 1088.35,429.13 1088.90,429.23 1089.45,429.25 1090.00,429.17 1090.55,429.02 1091.09,428.84 1091.64,428.69 1092.19,428.62 1092.74,428.64 1093.29,428.74 1093.84,428.92 1094.39,429.16 1094.93,429.44 1095.48,429.76 1096.03,430.06 1096.58,430.31 1097.13,430.51 1097.68,430.66 1098.23,430.81 1098.77,430.98 1099.32,431.20 1099.87,431.46 1100.42,431.75 1100.97,432.02 1101.52,432.26 1102.07,432.47 1102.61,432.65 1103.16,432.79 1103.71,432.90 1104.26,432.98 1104.81,433.04 1105.36,433.12 1105.90,433.24 1106.45,433.40 1107.00,433.60 1107.55,433.79 1108.10,433.94 1108.65,434.03 1109.20,434.05 1109.74,434.03 1110.29,433.99 1110.84,433.97 1111.39,433.96 1111.94,433.98 1112.49,434.02 1113.04,434.09 1113.58,434.18 1114.13,434.29 1114.68,434.43 1115.23,434.59 1115.78,434.79 1116.33,434.99 1116.88,435.18 1117.42,435.31 1117.97,435.39 1118.52,435.42 1119.07,435.45 1119.62,435.51 1120.17,435.62 1120.72,435.77 1121.26,435.92 1121.81,436.05 1122.36,436.15 1122.91,436.26 1123.46,436.39 1124.01,436.57 1124.56,436.78 1125.10,436.96 1125.65,437.08 1126.20,437.09 1126.75,437.01 1127.30,436.85 1127.85,436.68 1128.40,436.52 1128.94,436.41 1129.49,436.33 1130.04,436.27 1130.59,436.21 1131.14,436.15 1131.69,436.10 1132.24,436.07 1132.78,436.07 1133.33,436.11 1133.88,436.18 1134.43,436.29 1134.98,436.42 1135.53,436.58 1136.07,436.76 1136.62,436.95 1137.17,437.14 1137.72,437.32 1138.27,437.47 1138.82,437.60 1139.37,437.71 1139.91,437.79 1140.46,437.86 1141.01,437.91 1141.56,437.96 1142.11,438.01 1142.66,438.06 1143.21,438.10 1143.75,438.11 1144.30,438.09 1144.85,438.02 1145.40,437.90" fill="none" stroke="#22e022" stroke-width="3.6" stroke-linejoin="round" stroke-linecap="round" clip-path="url(#cD)"/>
<polyline points="882.10,180.03 882.65,184.40 883.20,188.69 883.75,192.95 884.29,197.21 884.84,201.49 885.39,205.77 885.94,210.01 886.49,214.17 887.04,218.25 887.59,222.23 888.13,226.14 888.68,230.00 889.23,233.81 889.78,237.58 890.33,241.28 890.88,244.91 891.43,248.45 891.97,251.94 892.52,255.39 893.07,258.82 893.62,262.25 894.17,265.67 894.72,269.07 895.26,272.43 895.81,275.73 896.36,278.94 896.91,282.04 897.46,285.02 898.01,287.87 898.56,290.60 899.10,293.24 899.65,295.82 900.20,298.39 900.75,300.93 901.30,303.49 901.85,306.13 902.40,308.85 902.94,311.64 903.49,314.47 904.04,317.32 904.59,320.17 905.14,323.05 905.69,326.04 906.24,329.10 906.78,332.18 907.33,335.22 907.88,338.18 908.43,340.98 908.98,343.73 909.53,346.60 910.08,349.51 910.62,352.41 911.17,355.20 911.72,357.79 912.27,360.05 912.82,361.89 913.37,363.44 913.92,364.76 914.46,365.94 915.01,367.06 915.56,368.20 916.11,369.40 916.66,370.69 917.21,372.08 917.76,373.55 918.30,375.10 918.85,376.68 919.40,378.24 919.95,379.73 920.50,381.09 921.05,382.28 921.60,383.31 922.14,384.19 922.69,384.98 923.24,385.76 923.79,386.59 924.34,387.50 924.89,388.50 925.43,389.55 925.98,390.59 926.53,391.56 927.08,392.41 927.63,393.19 928.18,393.91 928.73,394.62 929.27,395.32 929.82,396.03 930.37,396.73 930.92,397.42 931.47,398.08 932.02,398.69 932.57,399.26 933.11,399.78 933.66,400.27 934.21,400.74 934.76,401.19 935.31,401.61 935.86,401.98 936.41,402.30 936.95,402.55 937.50,402.73 938.05,402.87 938.60,402.99 939.15,403.12 939.70,403.28 940.25,403.49 940.79,403.72 941.34,403.95 941.89,404.17 942.44,404.38 942.99,404.60 943.54,404.85 944.09,405.13 944.63,405.43 945.18,405.73 945.73,406.04 946.28,406.37 946.83,406.73 947.38,407.13 947.93,407.57 948.47,408.03 949.02,408.49 949.57,408.94 950.12,409.38 950.67,409.83 951.22,410.32 951.76,410.87 952.31,411.47 952.86,412.07 953.41,412.66 953.96,413.18 954.51,413.64 955.06,414.03 955.60,414.37 956.15,414.67 956.70,414.95 957.25,415.19 957.80,415.42 958.35,415.66 958.90,415.95 959.44,416.30 959.99,416.73 960.54,417.21 961.09,417.70 961.64,418.17 962.19,418.59 962.74,418.94 963.28,419.22 963.83,419.44 964.38,419.63 964.93,419.81 965.48,420.02 966.03,420.29 966.58,420.62 967.12,420.99 967.67,421.38 968.22,421.77 968.77,422.15 969.32,422.55 969.87,422.98 970.42,423.44 970.96,423.92 971.51,424.41 972.06,424.87 972.61,425.33 973.16,425.78 973.71,426.25 974.25,426.70 974.80,427.12 975.35,427.45 975.90,427.65 976.45,427.72 977.00,427.67 977.55,427.55 978.09,427.42 978.64,427.34 979.19,427.34 979.74,427.40 980.29,427.54 980.84,427.73 981.39,427.96 981.93,428.19 982.48,428.39 983.03,428.54 983.58,428.60 984.13,428.58 984.68,428.52 985.23,428.48 985.77,428.51 986.32,428.65 986.87,428.89 987.42,429.19 987.97,429.49 988.52,429.75 989.07,429.95 989.61,430.09 990.16,430.19 990.71,430.26 991.26,430.29 991.81,430.30 992.36,430.30 992.91,430.35 993.45,430.47 994.00,430.66 994.55,430.92 995.10,431.17 995.65,431.39 996.20,431.52 996.75,431.57 997.29,431.59 997.84,431.59 998.39,431.61 998.94,431.66 999.49,431.73 1000.04,431.81 1000.59,431.89 1001.13,432.00 1001.68,432.15 1002.23,432.37 1002.78,432.68 1003.33,433.04 1003.88,433.42 1004.42,433.74 1004.97,433.95 1005.52,434.03 1006.07,433.98 1006.62,433.85 1007.17,433.67 1007.72,433.47 1008.26,433.30 1008.81,433.17 1009.36,433.10 1009.91,433.12 1010.46,433.23 1011.01,433.43 1011.56,433.70 1012.10,434.01 1012.65,434.33 1013.20,434.64 1013.75,434.92 1014.30,435.16 1014.85,435.34 1015.40,435.45 1015.94,435.49 1016.49,435.47 1017.04,435.41 1017.59,435.34 1018.14,435.30 1018.69,435.33 1019.24,435.43 1019.78,435.59 1020.33,435.81 1020.88,436.05 1021.43,436.29 1021.98,436.49 1022.53,436.62 1023.08,436.68 1023.62,436.68 1024.17,436.66 1024.72,436.65 1025.27,436.68 1025.82,436.76 1026.37,436.89 1026.91,437.05 1027.46,437.25 1028.01,437.46 1028.56,437.69 1029.11,437.92 1029.66,438.12 1030.21,438.28 1030.75,438.37 1031.30,438.39 1031.85,438.34 1032.40,438.23 1032.95,438.11 1033.50,438.02 1034.05,438.00 1034.59,438.06 1035.14,438.20 1035.69,438.41 1036.24,438.68 1036.79,439.00 1037.34,439.35 1037.89,439.69 1038.43,440.01 1038.98,440.29 1039.53,440.52 1040.08,440.69 1040.63,440.80 1041.18,440.86 1041.73,440.87 1042.27,440.88 1042.82,440.92 1043.37,441.01 1043.92,441.16 1044.47,441.32 1045.02,441.46 1045.57,441.56 1046.11,441.61 1046.66,441.64 1047.21,441.69 1047.76,441.78 1048.31,441.94 1048.86,442.14 1049.41,442.36 1049.95,442.57 1050.50,442.77 1051.05,442.93 1051.60,443.08 1052.15,443.21 1052.70,443.33 1053.25,443.44 1053.79,443.52 1054.34,443.58 1054.89,443.61 1055.44,443.61 1055.99,443.60 1056.54,443.57 1057.08,443.53 1057.63,443.50 1058.18,443.47 1058.73,443.44 1059.28,443.41 1059.83,443.39 1060.38,443.35 1060.92,443.31 1061.47,443.26 1062.02,443.21 1062.57,443.17 1063.12,443.13 1063.67,443.09 1064.22,443.06 1064.76,443.04 1065.31,443.01 1065.86,442.99 1066.41,442.98 1066.96,443.00 1067.51,443.04 1068.06,443.12 1068.60,443.23 1069.15,443.34 1069.70,443.44 1070.25,443.48 1070.80,443.46 1071.35,443.39 1071.90,443.29 1072.44,443.20 1072.99,443.15 1073.54,443.14 1074.09,443.17 1074.64,443.21 1075.19,443.23 1075.74,443.22 1076.28,443.15 1076.83,443.04 1077.38,442.90 1077.93,442.75 1078.48,442.60 1079.03,442.48 1079.58,442.40 1080.12,442.37 1080.67,442.39 1081.22,442.48 1081.77,442.60 1082.32,442.76 1082.87,442.92 1083.41,443.07 1083.96,443.22 1084.51,443.34 1085.06,443.45 1085.61,443.54 1086.16,443.61 1086.71,443.65 1087.25,443.65 1087.80,443.61 1088.35,443.54 1088.90,443.44 1089.45,443.32 1090.00,443.21 1090.55,443.11 1091.09,443.02 1091.64,442.96 1092.19,442.93 1092.74,442.95 1093.29,443.01 1093.84,443.10 1094.39,443.20 1094.93,443.28 1095.48,443.32 1096.03,443.31 1096.58,443.26 1097.13,443.18 1097.68,443.08 1098.23,442.97 1098.77,442.89 1099.32,442.86 1099.87,442.90 1100.42,443.00 1100.97,443.16 1101.52,443.33 1102.07,443.48 1102.61,443.60 1103.16,443.67 1103.71,443.71 1104.26,443.72 1104.81,443.71 1105.36,443.69 1105.90,443.68 1106.45,443.69 1107.00,443.74 1107.55,443.82 1108.10,443.93 1108.65,444.04 1109.20,444.14 1109.74,444.21 1110.29,444.27 1110.84,444.29 1111.39,444.28 1111.94,444.24 1112.49,444.19 1113.04,444.15 1113.58,444.11 1114.13,444.09 1114.68,444.07 1115.23,444.06 1115.78,444.06 1116.33,444.07 1116.88,444.10 1117.42,444.15 1117.97,444.24 1118.52,444.34 1119.07,444.46 1119.62,444.58 1120.17,444.67 1120.72,444.73 1121.26,444.72 1121.81,444.65 1122.36,444.51 1122.91,444.33 1123.46,444.14 1124.01,443.97 1124.56,443.89 1125.10,443.92 1125.65,444.06 1126.20,444.27 1126.75,444.51 1127.30,444.73 1127.85,444.89 1128.40,444.98 1128.94,444.99 1129.49,444.96 1130.04,444.89 1130.59,444.82 1131.14,444.78 1131.69,444.77 1132.24,444.79 1132.78,444.82 1133.33,444.84 1133.88,444.82 1134.43,444.75 1134.98,444.66 1135.53,444.56 1136.07,444.47 1136.62,444.43 1137.17,444.45 1137.72,444.50 1138.27,444.57 1138.82,444.64 1139.37,444.70 1139.91,444.74 1140.46,444.79 1141.01,444.88 1141.56,445.03 1142.11,445.22 1142.66,445.43 1143.21,445.61 1143.75,445.73 1144.30,445.80 1144.85,445.80 1145.40,445.76" fill="none" stroke="#0000c8" stroke-width="3.6" stroke-linejoin="round" stroke-linecap="round" clip-path="url(#cD)"/>
<polyline points="882.10,202.93 882.65,203.34 883.20,204.24 883.75,205.61 884.29,207.48 884.84,209.83 885.39,212.61 885.94,215.78 886.49,219.28 887.04,223.11 887.59,227.28 888.13,231.79 888.68,236.67 889.23,241.93 889.78,247.58 890.33,253.62 890.88,260.05 891.43,266.85 891.97,273.97 892.52,288.19 893.07,307.03 893.62,316.98 894.17,320.81 894.72,323.73 895.26,325.99 895.81,327.88 896.36,329.64 896.91,331.52 897.46,333.31 898.01,334.92 898.56,336.42 899.10,337.86 899.65,339.26 900.20,340.65 900.75,342.04 901.30,343.51 901.85,345.30 902.40,347.70 902.94,350.58 903.49,353.79 904.04,357.16 904.59,360.44 905.14,363.37 905.69,365.74 906.24,367.74 906.78,369.62 907.33,371.47 907.88,373.36 908.43,375.33 908.98,377.36 909.53,379.47 910.08,381.63 910.62,383.80 911.17,385.96 911.72,388.08 912.27,390.08 912.82,391.92 913.37,393.52 913.92,394.87 914.46,395.98 915.01,396.99 915.56,397.95 916.11,398.86 916.66,399.74 917.21,400.56 917.76,401.28 918.30,401.90 918.85,402.44 919.40,402.92 919.95,403.39 920.50,403.91 921.05,404.52 921.60,405.21 922.14,405.96 922.69,406.73 923.24,407.42 923.79,407.99 924.34,408.38 924.89,408.58 925.43,408.63 925.98,408.58 926.53,408.50 927.08,408.49 927.63,408.60 928.18,408.89 928.73,409.33 929.27,409.90 929.82,410.56 930.37,411.26 930.92,411.97 931.47,412.66 932.02,413.29 932.57,413.82 933.11,414.18 933.66,414.36 934.21,414.36 934.76,414.26 935.31,414.14 935.86,414.09 936.41,414.16 936.95,414.36 937.50,414.66 938.05,415.03 938.60,415.42 939.15,415.83 939.70,416.25 940.25,416.71 940.79,417.21 941.34,417.75 941.89,418.30 942.44,418.85 942.99,419.41 943.54,420.01 944.09,420.67 944.63,421.38 945.18,422.11 945.73,422.78 946.28,423.37 946.83,423.85 947.38,424.22 947.93,424.50 948.47,424.68 949.02,424.77 949.57,424.78 950.12,424.75 950.67,424.72 951.22,424.71 951.76,424.75 952.31,424.84 952.86,424.97 953.41,425.14 953.96,425.37 954.51,425.68 955.06,426.08 955.60,426.59 956.15,427.17 956.70,427.77 957.25,428.36 957.80,428.87 958.35,429.29 958.90,429.64 959.44,429.94 959.99,430.22 960.54,430.49 961.09,430.73 961.64,430.95 962.19,431.16 962.74,431.37 963.28,431.62 963.83,431.91 964.38,432.24 964.93,432.57 965.48,432.88 966.03,433.14 966.58,433.37 967.12,433.59 967.67,433.83 968.22,434.11 968.77,434.41 969.32,434.70 969.87,434.94 970.42,435.09 970.96,435.13 971.51,435.09 972.06,435.00 972.61,434.92 973.16,434.88 973.71,434.91 974.25,434.98 974.80,435.08 975.35,435.20 975.90,435.35 976.45,435.53 977.00,435.74 977.55,435.97 978.09,436.20 978.64,436.40 979.19,436.55 979.74,436.65 980.29,436.71 980.84,436.71 981.39,436.66 981.93,436.55 982.48,436.38 983.03,436.19 983.58,436.00 984.13,435.86 984.68,435.79 985.23,435.80 985.77,435.85 986.32,435.93 986.87,435.99 987.42,436.05 987.97,436.12 988.52,436.24 989.07,436.41 989.61,436.65 990.16,436.92 990.71,437.19 991.26,437.41 991.81,437.53 992.36,437.54 992.91,437.46 993.45,437.34 994.00,437.25 994.55,437.23 995.10,437.32 995.65,437.52 996.20,437.79 996.75,438.09 997.29,438.37 997.84,438.61 998.39,438.80 998.94,438.94 999.49,439.04 1000.04,439.09 1000.59,439.08 1001.13,439.00 1001.68,438.84 1002.23,438.61 1002.78,438.35 1003.33,438.11 1003.88,437.95 1004.42,437.87 1004.97,437.84 1005.52,437.81 1006.07,437.74 1006.62,437.61 1007.17,437.44 1007.72,437.25 1008.26,437.08 1008.81,436.95 1009.36,436.87 1009.91,436.86 1010.46,436.91 1011.01,436.99 1011.56,437.11 1012.10,437.24 1012.65,437.35 1013.20,437.44 1013.75,437.48 1014.30,437.48 1014.85,437.45 1015.40,437.42 1015.94,437.39 1016.49,437.36 1017.04,437.34 1017.59,437.32 1018.14,437.33 1018.69,437.40 1019.24,437.55 1019.78,437.82 1020.33,438.19 1020.88,438.66 1021.43,439.19 1021.98,439.72 1022.53,440.21 1023.08,440.64 1023.62,441.00 1024.17,441.30 1024.72,441.55 1025.27,441.76 1025.82,441.95 1026.37,442.11 1026.91,442.26 1027.46,442.38 1028.01,442.51 1028.56,442.65 1029.11,442.77 1029.66,442.88 1030.21,442.93 1030.75,442.92 1031.30,442.82 1031.85,442.67 1032.40,442.48 1032.95,442.31 1033.50,442.19 1034.05,442.13 1034.59,442.14 1035.14,442.19 1035.69,442.24 1036.24,442.28 1036.79,442.28 1037.34,442.27 1037.89,442.26 1038.43,442.30 1038.98,442.41 1039.53,442.57 1040.08,442.75 1040.63,442.93 1041.18,443.05 1041.73,443.10 1042.27,443.08 1042.82,443.01 1043.37,442.93 1043.92,442.85 1044.47,442.79 1045.02,442.74 1045.57,442.71 1046.11,442.70 1046.66,442.73 1047.21,442.80 1047.76,442.88 1048.31,442.98 1048.86,443.07 1049.41,443.15 1049.95,443.23 1050.50,443.30 1051.05,443.35 1051.60,443.37 1052.15,443.35 1052.70,443.30 1053.25,443.24 1053.79,443.17 1054.34,443.12 1054.89,443.11 1055.44,443.13 1055.99,443.20 1056.54,443.30 1057.08,443.43 1057.63,443.58 1058.18,443.75 1058.73,443.90 1059.28,444.03 1059.83,444.13 1060.38,444.19 1060.92,444.24 1061.47,444.25 1062.02,444.25 1062.57,444.23 1063.12,444.18 1063.67,444.11 1064.22,444.03 1064.76,443.95 1065.31,443.89 1065.86,443.88 1066.41,443.92 1066.96,444.02 1067.51,444.17 1068.06,444.34 1068.60,444.48 1069.15,444.56 1069.70,444.52 1070.25,444.39 1070.80,444.19 1071.35,443.98 1071.90,443.80 1072.44,443.68 1072.99,443.62 1073.54,443.62 1074.09,443.66 1074.64,443.73 1075.19,443.81 1075.74,443.90 1076.28,443.99 1076.83,444.06 1077.38,444.11 1077.93,444.13 1078.48,444.12 1079.03,444.09 1079.58,444.03 1080.12,443.94 1080.67,443.84 1081.22,443.73 1081.77,443.61 1082.32,443.53 1082.87,443.48 1083.41,443.47 1083.96,443.50 1084.51,443.54 1085.06,443.60 1085.61,443.67 1086.16,443.75 1086.71,443.87 1087.25,444.04 1087.80,444.24 1088.35,444.44 1088.90,444.62 1089.45,444.73 1090.00,444.76 1090.55,444.73 1091.09,444.66 1091.64,444.58 1092.19,444.54 1092.74,444.53 1093.29,444.56 1093.84,444.62 1094.39,444.69 1094.93,444.76 1095.48,444.84 1096.03,444.91 1096.58,444.98 1097.13,445.02 1097.68,445.04 1098.23,445.01 1098.77,444.95 1099.32,444.87 1099.87,444.78 1100.42,444.71 1100.97,444.66 1101.52,444.64 1102.07,444.66 1102.61,444.70 1103.16,444.78 1103.71,444.90 1104.26,445.04 1104.81,445.20 1105.36,445.35 1105.90,445.47 1106.45,445.57 1107.00,445.62 1107.55,445.66 1108.10,445.67 1108.65,445.67 1109.20,445.63 1109.74,445.54 1110.29,445.40 1110.84,445.23 1111.39,445.04 1111.94,444.88 1112.49,444.77 1113.04,444.74 1113.58,444.78 1114.13,444.87 1114.68,444.98 1115.23,445.07 1115.78,445.11 1116.33,445.12 1116.88,445.11 1117.42,445.11 1117.97,445.13 1118.52,445.18 1119.07,445.24 1119.62,445.30 1120.17,445.36 1120.72,445.42 1121.26,445.49 1121.81,445.55 1122.36,445.62 1122.91,445.68 1123.46,445.74 1124.01,445.79 1124.56,445.82 1125.10,445.82 1125.65,445.78 1126.20,445.71 1126.75,445.62 1127.30,445.54 1127.85,445.47 1128.40,445.44 1128.94,445.45 1129.49,445.48 1130.04,445.55 1130.59,445.64 1131.14,445.76 1131.69,445.89 1132.24,446.01 1132.78,446.12 1133.33,446.19 1133.88,446.23 1134.43,446.24 1134.98,446.23 1135.53,446.20 1136.07,446.17 1136.62,446.14 1137.17,446.13 1137.72,446.14 1138.27,446.17 1138.82,446.21 1139.37,446.26 1139.91,446.32 1140.46,446.38 1141.01,446.44 1141.56,446.51 1142.11,446.60 1142.66,446.71 1143.21,446.80 1143.75,446.86 1144.30,446.86 1144.85,446.80 1145.40,446.69" fill="none" stroke="#dd1020" stroke-width="3.6" stroke-linejoin="round" stroke-linecap="round" clip-path="url(#cD)"/>
<rect x="882.1" y="273.5" width="263.30000000000007" height="187.10000000000002" fill="none" stroke="#111" stroke-width="2"/>
<line x1="947.93" y1="460.60" x2="947.93" y2="456.60" stroke="#111" stroke-width="1.6" />
<line x1="947.93" y1="273.50" x2="947.93" y2="277.50" stroke="#111" stroke-width="1.6" />
<line x1="1013.75" y1="460.60" x2="1013.75" y2="456.60" stroke="#111" stroke-width="1.6" />
<line x1="1013.75" y1="273.50" x2="1013.75" y2="277.50" stroke="#111" stroke-width="1.6" />
<line x1="1079.58" y1="460.60" x2="1079.58" y2="456.60" stroke="#111" stroke-width="1.6" />
<line x1="1079.58" y1="273.50" x2="1079.58" y2="277.50" stroke="#111" stroke-width="1.6" />
<line x1="882.10" y1="413.83" x2="886.10" y2="413.83" stroke="#111" stroke-width="1.6" />
<line x1="1145.40" y1="413.83" x2="1141.40" y2="413.83" stroke="#111" stroke-width="1.6" />
<line x1="882.10" y1="367.05" x2="886.10" y2="367.05" stroke="#111" stroke-width="1.6" />
<line x1="1145.40" y1="367.05" x2="1141.40" y2="367.05" stroke="#111" stroke-width="1.6" />
<line x1="882.10" y1="320.27" x2="886.10" y2="320.27" stroke="#111" stroke-width="1.6" />
<line x1="1145.40" y1="320.27" x2="1141.40" y2="320.27" stroke="#111" stroke-width="1.6" />
<text transform="translate(565.35,258.60) scale(1.0200,1)" font-size="18.2" font-weight="normal" fill="#111">0</text>
<text transform="translate(555.04,211.85) scale(1.0200,1)" font-size="18.2" font-weight="normal" fill="#111">10</text>
<text transform="translate(555.04,165.10) scale(1.0200,1)" font-size="18.2" font-weight="normal" fill="#111">20</text>
<text transform="translate(555.04,118.35) scale(1.0200,1)" font-size="18.2" font-weight="normal" fill="#111">30</text>
<text transform="translate(555.04,71.60) scale(1.0200,1)" font-size="18.2" font-weight="normal" fill="#111">40</text>
<text transform="translate(544.00,202.26) rotate(-90) scale(1.0797,1)" font-size="19.2" font-weight="normal" fill="#111">Errors</text>
<text transform="translate(542.90,143.54) rotate(-90) scale(0.9879,1)" font-size="17.6" font-weight="normal" fill="#111">(cm)</text>
<text transform="translate(565.35,468.00) scale(1.0200,1)" font-size="18.2" font-weight="normal" fill="#111">0</text>
<text transform="translate(555.04,421.18) scale(1.0200,1)" font-size="18.2" font-weight="normal" fill="#111">10</text>
<text transform="translate(555.04,374.35) scale(1.0200,1)" font-size="18.2" font-weight="normal" fill="#111">20</text>
<text transform="translate(555.04,327.53) scale(1.0200,1)" font-size="18.2" font-weight="normal" fill="#111">30</text>
<text transform="translate(555.04,280.70) scale(1.0200,1)" font-size="18.2" font-weight="normal" fill="#111">40</text>
<text transform="translate(544.00,411.26) rotate(-90) scale(1.0797,1)" font-size="19.2" font-weight="normal" fill="#111">Errors</text>
<text transform="translate(542.90,352.54) rotate(-90) scale(0.9879,1)" font-size="17.6" font-weight="normal" fill="#111">(cm)</text>
<text transform="translate(578.55,486.40) scale(1.0200,1)" font-size="18.2" font-weight="normal" fill="#111">0</text>
<text transform="translate(639.34,486.40) scale(1.0200,1)" font-size="18.2" font-weight="normal" fill="#111">30</text>
<text transform="translate(705.18,486.40) scale(1.0200,1)" font-size="18.2" font-weight="normal" fill="#111">60</text>
<text transform="translate(771.17,486.40) scale(1.0200,1)" font-size="18.2" font-weight="normal" fill="#111">90</text>
<text transform="translate(831.67,486.40) scale(1.0200,1)" font-size="18.2" font-weight="normal" fill="#111">120</text>
<text transform="translate(876.90,486.40) scale(1.0200,1)" font-size="18.2" font-weight="normal" fill="#111">0</text>
<text transform="translate(937.58,486.40) scale(1.0200,1)" font-size="18.2" font-weight="normal" fill="#111">30</text>
<text transform="translate(1003.31,486.40) scale(1.0200,1)" font-size="18.2" font-weight="normal" fill="#111">60</text>
<text transform="translate(1069.18,486.40) scale(1.0200,1)" font-size="18.2" font-weight="normal" fill="#111">90</text>
<text transform="translate(1129.57,486.40) scale(1.0200,1)" font-size="18.2" font-weight="normal" fill="#111">120</text>
<text transform="translate(673.29,512.60) scale(1.0499,1)" font-size="19.5" font-weight="normal" fill="#111">Time (min)</text>
<text transform="translate(971.09,512.60) scale(1.0499,1)" font-size="19.5" font-weight="normal" fill="#111">Time (min)</text>
<text transform="translate(736.92,96.40) scale(0.9735,1)" font-size="23.6" font-weight="normal" fill="#111">(E)</text>
<text transform="translate(1034.52,96.20) scale(0.9714,1)" font-size="23.6" font-weight="normal" fill="#111">(N)</text>
<text transform="translate(737.72,305.10) scale(0.9781,1)" font-size="23.6" font-weight="normal" fill="#111">(U)</text>
<text transform="translate(1024.44,305.10) scale(0.9592,1)" font-size="23.6" font-weight="normal" fill="#111">(3D)</text>
<line x1="581.90" y1="43.30" x2="649.70" y2="43.30" stroke="#22e022" stroke-width="4" />
<text transform="translate(656.37,47.20) scale(0.9966,1)" font-size="17.5" font-weight="normal" fill="#3dcc3d">un_IFCB</text>
<line x1="763.50" y1="41.90" x2="833.60" y2="41.90" stroke="#0000d0" stroke-width="5" />
<text transform="translate(842.54,46.80) scale(1.0000,1)" font-size="18.3" font-weight="normal" fill="#1a1aa0">Pred-IFCB</text>
<line x1="983.60" y1="41.30" x2="1052.20" y2="41.30" stroke="#e00010" stroke-width="5" />
<text transform="translate(1063.30,46.60) scale(1.0104,1)" font-size="18.5" font-weight="normal" fill="#b01c2a">with IFCB</text>
<circle cx="1158" cy="37.3" r="0.7" fill="#888"/>
</svg></body></html>
